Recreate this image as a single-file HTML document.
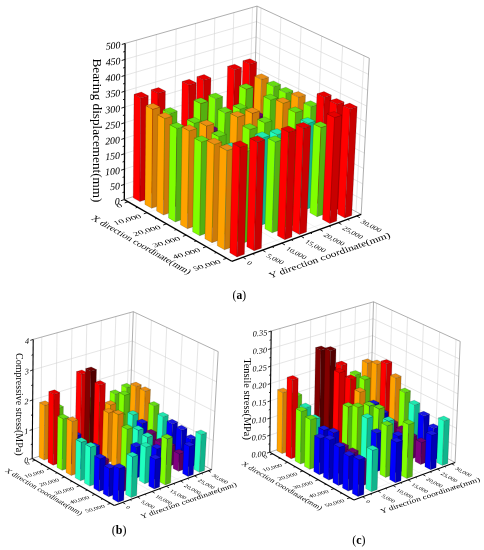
<!DOCTYPE html>
<html><head><meta charset="utf-8"><title>Figure</title>
<style>html,body{margin:0;padding:0;background:#fff}svg{display:block;font-family:"Liberation Serif",serif}</style>
</head><body>
<svg width="484" height="550" viewBox="0 0 484 550">
<rect width="484" height="550" fill="#fff"/>
<polygon points="269.8,452.2 370.2,418.3 373.5,301.8 271.2,331" fill="#fff" stroke="none" stroke-width="0"/>
<polygon points="370.2,418.3 455.1,462.5 460.2,341.4 373.5,301.8" fill="#fff" stroke="none" stroke-width="0"/>
<polygon points="269.8,452.2 353.9,500.1 455.1,462.5 370.2,418.3" fill="#fff" stroke="none" stroke-width="0"/>
<line x1="278.4" y1="449.3" x2="280" y2="328.5" stroke="#d4d4d4" stroke-width="0.6"/>
<line x1="278.4" y1="449.3" x2="362.6" y2="496.8" stroke="#e6e6e6" stroke-width="0.5"/>
<line x1="293.6" y1="444.1" x2="295.5" y2="324.1" stroke="#d4d4d4" stroke-width="0.6"/>
<line x1="293.6" y1="444.1" x2="378" y2="491.1" stroke="#e6e6e6" stroke-width="0.5"/>
<line x1="308.7" y1="439.1" x2="310.8" y2="319.7" stroke="#d4d4d4" stroke-width="0.6"/>
<line x1="308.7" y1="439.1" x2="393.1" y2="485.5" stroke="#e6e6e6" stroke-width="0.5"/>
<line x1="323.5" y1="434.1" x2="325.9" y2="315.4" stroke="#d4d4d4" stroke-width="0.6"/>
<line x1="323.5" y1="434.1" x2="408.1" y2="479.9" stroke="#e6e6e6" stroke-width="0.5"/>
<line x1="338.1" y1="429.1" x2="340.8" y2="311.1" stroke="#d4d4d4" stroke-width="0.6"/>
<line x1="338.1" y1="429.1" x2="422.8" y2="474.5" stroke="#e6e6e6" stroke-width="0.5"/>
<line x1="352.6" y1="424.3" x2="355.5" y2="307" stroke="#d4d4d4" stroke-width="0.6"/>
<line x1="352.6" y1="424.3" x2="437.4" y2="469.1" stroke="#e6e6e6" stroke-width="0.5"/>
<line x1="366.8" y1="419.5" x2="370" y2="302.8" stroke="#d4d4d4" stroke-width="0.6"/>
<line x1="366.8" y1="419.5" x2="451.7" y2="463.7" stroke="#e6e6e6" stroke-width="0.5"/>
<line x1="373.2" y1="419.9" x2="376.5" y2="303.2" stroke="#d4d4d4" stroke-width="0.6"/>
<line x1="272.8" y1="453.8" x2="373.2" y2="419.9" stroke="#e6e6e6" stroke-width="0.5"/>
<line x1="388.3" y1="427.7" x2="391.9" y2="310.2" stroke="#d4d4d4" stroke-width="0.6"/>
<line x1="287.7" y1="462.3" x2="388.3" y2="427.7" stroke="#e6e6e6" stroke-width="0.5"/>
<line x1="403.6" y1="435.7" x2="407.5" y2="317.4" stroke="#d4d4d4" stroke-width="0.6"/>
<line x1="302.8" y1="471" x2="403.6" y2="435.7" stroke="#e6e6e6" stroke-width="0.5"/>
<line x1="419.2" y1="443.8" x2="423.4" y2="324.6" stroke="#d4d4d4" stroke-width="0.6"/>
<line x1="318.2" y1="479.7" x2="419.2" y2="443.8" stroke="#e6e6e6" stroke-width="0.5"/>
<line x1="435" y1="452" x2="439.6" y2="332" stroke="#d4d4d4" stroke-width="0.6"/>
<line x1="333.9" y1="488.7" x2="435" y2="452" stroke="#e6e6e6" stroke-width="0.5"/>
<line x1="451.1" y1="460.4" x2="456" y2="339.5" stroke="#d4d4d4" stroke-width="0.6"/>
<line x1="349.9" y1="497.8" x2="451.1" y2="460.4" stroke="#e6e6e6" stroke-width="0.5"/>
<line x1="270" y1="435.1" x2="370.7" y2="401.9" stroke="#d4d4d4" stroke-width="0.6"/>
<line x1="370.7" y1="401.9" x2="455.9" y2="445.5" stroke="#d4d4d4" stroke-width="0.6"/>
<line x1="270.2" y1="418" x2="371.1" y2="385.5" stroke="#d4d4d4" stroke-width="0.6"/>
<line x1="371.1" y1="385.5" x2="456.6" y2="428.4" stroke="#d4d4d4" stroke-width="0.6"/>
<line x1="270.4" y1="400.8" x2="371.6" y2="368.9" stroke="#d4d4d4" stroke-width="0.6"/>
<line x1="371.6" y1="368.9" x2="457.3" y2="411.2" stroke="#d4d4d4" stroke-width="0.6"/>
<line x1="270.6" y1="383.5" x2="372.1" y2="352.3" stroke="#d4d4d4" stroke-width="0.6"/>
<line x1="372.1" y1="352.3" x2="458" y2="393.9" stroke="#d4d4d4" stroke-width="0.6"/>
<line x1="270.8" y1="366.1" x2="372.5" y2="335.6" stroke="#d4d4d4" stroke-width="0.6"/>
<line x1="372.5" y1="335.6" x2="458.7" y2="376.5" stroke="#d4d4d4" stroke-width="0.6"/>
<line x1="271" y1="348.6" x2="373" y2="318.7" stroke="#d4d4d4" stroke-width="0.6"/>
<line x1="373" y1="318.7" x2="459.5" y2="359" stroke="#d4d4d4" stroke-width="0.6"/>
<line x1="271.2" y1="331" x2="373.5" y2="301.8" stroke="#8c8c8c" stroke-width="0.7"/>
<line x1="373.5" y1="301.8" x2="460.2" y2="341.4" stroke="#8c8c8c" stroke-width="0.7"/>
<line x1="460.2" y1="341.4" x2="455.1" y2="462.5" stroke="#8c8c8c" stroke-width="0.7"/>
<line x1="370.2" y1="418.3" x2="373.5" y2="301.8" stroke="#8c8c8c" stroke-width="0.7"/>
<line x1="370.2" y1="418.3" x2="455.1" y2="462.5" stroke="#8c8c8c" stroke-width="0.7"/>
<line x1="269.8" y1="452.2" x2="370.2" y2="418.3" stroke="#8c8c8c" stroke-width="0.7"/>
<polygon points="360.6,422.4 365.9,425.2 367.6,363 362.2,360.4" fill="#ffa200" stroke="#000" stroke-width="0.35" stroke-linejoin="round" stroke-opacity="0.45"/>
<polygon points="365.9,425.2 371.2,423.4 372.9,361.4 367.6,363" fill="#cc7a08" stroke="#000" stroke-width="0.35" stroke-linejoin="round" stroke-opacity="0.45"/>
<polygon points="362.2,360.4 367.6,363 372.9,361.4 367.6,358.8" fill="#ea8e14" stroke="#000" stroke-width="0.35" stroke-linejoin="round" stroke-opacity="0.45"/>
<polygon points="369.8,427.2 375.1,430 377,364.3 371.6,361.6" fill="#ffa200" stroke="#000" stroke-width="0.35" stroke-linejoin="round" stroke-opacity="0.45"/>
<polygon points="375.1,430 380.4,428.2 382.4,362.6 377,364.3" fill="#cc7a08" stroke="#000" stroke-width="0.35" stroke-linejoin="round" stroke-opacity="0.45"/>
<polygon points="371.6,361.6 377,364.3 382.4,362.6 377,359.9" fill="#ea8e14" stroke="#000" stroke-width="0.35" stroke-linejoin="round" stroke-opacity="0.45"/>
<polygon points="348.9,426.3 354.2,429.2 355.5,374.8 350.2,372.1" fill="#80ff00" stroke="#000" stroke-width="0.35" stroke-linejoin="round" stroke-opacity="0.45"/>
<polygon points="354.2,429.2 359.5,427.3 361,373.1 355.5,374.8" fill="#54b010" stroke="#000" stroke-width="0.35" stroke-linejoin="round" stroke-opacity="0.45"/>
<polygon points="350.2,372.1 355.5,374.8 361,373.1 355.6,370.4" fill="#66dc12" stroke="#000" stroke-width="0.35" stroke-linejoin="round" stroke-opacity="0.45"/>
<polygon points="379,432.1 384.4,434.9 386.6,363.8 381.1,361.1" fill="#ff0000" stroke="#000" stroke-width="0.35" stroke-linejoin="round" stroke-opacity="0.45"/>
<polygon points="384.4,434.9 389.8,433.1 392,362.1 386.6,363.8" fill="#c80000" stroke="#000" stroke-width="0.35" stroke-linejoin="round" stroke-opacity="0.45"/>
<polygon points="381.1,361.1 386.6,363.8 392,362.1 386.5,359.4" fill="#e60000" stroke="#000" stroke-width="0.35" stroke-linejoin="round" stroke-opacity="0.45"/>
<polygon points="358,431.2 363.4,434 364.8,379.8 359.4,377.1" fill="#80ff00" stroke="#000" stroke-width="0.35" stroke-linejoin="round" stroke-opacity="0.45"/>
<polygon points="363.4,434 368.8,432.2 370.3,378.1 364.8,379.8" fill="#54b010" stroke="#000" stroke-width="0.35" stroke-linejoin="round" stroke-opacity="0.45"/>
<polygon points="359.4,377.1 364.8,379.8 370.3,378.1 364.9,375.4" fill="#66dc12" stroke="#000" stroke-width="0.35" stroke-linejoin="round" stroke-opacity="0.45"/>
<polygon points="388.4,437 393.9,439.9 395.8,377.9 390.3,375.2" fill="#ffa200" stroke="#000" stroke-width="0.35" stroke-linejoin="round" stroke-opacity="0.45"/>
<polygon points="393.9,439.9 399.2,438 401.2,376.2 395.8,377.9" fill="#cc7a08" stroke="#000" stroke-width="0.35" stroke-linejoin="round" stroke-opacity="0.45"/>
<polygon points="390.3,375.2 395.8,377.9 401.2,376.2 395.7,373.5" fill="#ea8e14" stroke="#000" stroke-width="0.35" stroke-linejoin="round" stroke-opacity="0.45"/>
<polygon points="367.3,436.1 372.7,439 373.7,404.5 368.3,401.7" fill="#0000ff" stroke="#000" stroke-width="0.35" stroke-linejoin="round" stroke-opacity="0.45"/>
<polygon points="372.7,439 378.1,437.1 379.1,402.7 373.7,404.5" fill="#0000b4" stroke="#000" stroke-width="0.35" stroke-linejoin="round" stroke-opacity="0.45"/>
<polygon points="368.3,401.7 373.7,404.5 379.1,402.7 373.7,399.9" fill="#1818e0" stroke="#000" stroke-width="0.35" stroke-linejoin="round" stroke-opacity="0.45"/>
<polygon points="325.3,434.3 330.6,437.2 332,369.7 326.7,367" fill="#ff0000" stroke="#000" stroke-width="0.35" stroke-linejoin="round" stroke-opacity="0.45"/>
<polygon points="330.6,437.2 336.1,435.3 337.6,368 332,369.7" fill="#c80000" stroke="#000" stroke-width="0.35" stroke-linejoin="round" stroke-opacity="0.45"/>
<polygon points="326.7,367 332,369.7 337.6,368 332.2,365.3" fill="#e60000" stroke="#000" stroke-width="0.35" stroke-linejoin="round" stroke-opacity="0.45"/>
<polygon points="397.9,442 403.4,444.9 405.1,392.6 399.5,389.8" fill="#80ff00" stroke="#000" stroke-width="0.35" stroke-linejoin="round" stroke-opacity="0.45"/>
<polygon points="403.4,444.9 408.7,443 410.5,390.8 405.1,392.6" fill="#54b010" stroke="#000" stroke-width="0.35" stroke-linejoin="round" stroke-opacity="0.45"/>
<polygon points="399.5,389.8 405.1,392.6 410.5,390.8 404.9,388" fill="#66dc12" stroke="#000" stroke-width="0.35" stroke-linejoin="round" stroke-opacity="0.45"/>
<polygon points="376.7,441.1 382.1,444 383,413.7 377.5,410.9" fill="#0000ff" stroke="#000" stroke-width="0.35" stroke-linejoin="round" stroke-opacity="0.45"/>
<polygon points="382.1,444 387.5,442.1 388.4,411.9 383,413.7" fill="#0000b4" stroke="#000" stroke-width="0.35" stroke-linejoin="round" stroke-opacity="0.45"/>
<polygon points="377.5,410.9 383,413.7 388.4,411.9 383,409.1" fill="#1818e0" stroke="#000" stroke-width="0.35" stroke-linejoin="round" stroke-opacity="0.45"/>
<polygon points="313.9,438.1 319.2,441 321,350.3 315.6,347.6" fill="#820000" stroke="#000" stroke-width="0.35" stroke-linejoin="round" stroke-opacity="0.45"/>
<polygon points="319.2,441 324.8,439.1 326.6,348.6 321,350.3" fill="#520000" stroke="#000" stroke-width="0.35" stroke-linejoin="round" stroke-opacity="0.45"/>
<polygon points="315.6,347.6 321,350.3 326.6,348.6 321.3,345.9" fill="#6c0000" stroke="#000" stroke-width="0.35" stroke-linejoin="round" stroke-opacity="0.45"/>
<polygon points="334.5,439.3 339.8,442.2 341.5,365.5 336.1,362.8" fill="#ff0000" stroke="#000" stroke-width="0.35" stroke-linejoin="round" stroke-opacity="0.45"/>
<polygon points="339.8,442.2 345.3,440.3 347.1,363.8 341.5,365.5" fill="#c80000" stroke="#000" stroke-width="0.35" stroke-linejoin="round" stroke-opacity="0.45"/>
<polygon points="336.1,362.8 341.5,365.5 347.1,363.8 341.7,361.1" fill="#e60000" stroke="#000" stroke-width="0.35" stroke-linejoin="round" stroke-opacity="0.45"/>
<polygon points="407.4,447 413,449.9 414.5,404.9 408.9,402.1" fill="#20ffc0" stroke="#000" stroke-width="0.35" stroke-linejoin="round" stroke-opacity="0.45"/>
<polygon points="413,449.9 418.3,448 419.9,403.1 414.5,404.9" fill="#10b48c" stroke="#000" stroke-width="0.35" stroke-linejoin="round" stroke-opacity="0.45"/>
<polygon points="408.9,402.1 414.5,404.9 419.9,403.1 414.3,400.3" fill="#20e8b0" stroke="#000" stroke-width="0.35" stroke-linejoin="round" stroke-opacity="0.45"/>
<polygon points="386.1,446.1 391.6,449 392.4,423.7 386.9,420.9" fill="#800080" stroke="#000" stroke-width="0.35" stroke-linejoin="round" stroke-opacity="0.45"/>
<polygon points="391.6,449 397,447.1 397.8,421.9 392.4,423.7" fill="#580058" stroke="#000" stroke-width="0.35" stroke-linejoin="round" stroke-opacity="0.45"/>
<polygon points="386.9,420.9 392.4,423.7 397.8,421.9 392.3,419" fill="#700070" stroke="#000" stroke-width="0.35" stroke-linejoin="round" stroke-opacity="0.45"/>
<polygon points="323.1,443.1 328.4,446.1 330.4,350.7 325,348.1" fill="#820000" stroke="#000" stroke-width="0.35" stroke-linejoin="round" stroke-opacity="0.45"/>
<polygon points="328.4,446.1 334,444.2 336,349 330.4,350.7" fill="#520000" stroke="#000" stroke-width="0.35" stroke-linejoin="round" stroke-opacity="0.45"/>
<polygon points="325,348.1 330.4,350.7 336,349 330.6,346.4" fill="#6c0000" stroke="#000" stroke-width="0.35" stroke-linejoin="round" stroke-opacity="0.45"/>
<polygon points="343.7,444.3 349.1,447.2 350.7,379.2 345.3,376.4" fill="#ff0000" stroke="#000" stroke-width="0.35" stroke-linejoin="round" stroke-opacity="0.45"/>
<polygon points="349.1,447.2 354.6,445.3 356.3,377.4 350.7,379.2" fill="#c80000" stroke="#000" stroke-width="0.35" stroke-linejoin="round" stroke-opacity="0.45"/>
<polygon points="345.3,376.4 350.7,379.2 356.3,377.4 350.9,374.7" fill="#e60000" stroke="#000" stroke-width="0.35" stroke-linejoin="round" stroke-opacity="0.45"/>
<polygon points="417.1,452.1 422.7,455 424.1,416 418.5,413.1" fill="#0000ff" stroke="#000" stroke-width="0.35" stroke-linejoin="round" stroke-opacity="0.45"/>
<polygon points="422.7,455 428,453.1 429.5,414.1 424.1,416" fill="#0000b4" stroke="#000" stroke-width="0.35" stroke-linejoin="round" stroke-opacity="0.45"/>
<polygon points="418.5,413.1 424.1,416 429.5,414.1 423.8,411.3" fill="#1818e0" stroke="#000" stroke-width="0.35" stroke-linejoin="round" stroke-opacity="0.45"/>
<polygon points="395.7,451.2 401.2,454.1 402,430.4 396.4,427.5" fill="#800080" stroke="#000" stroke-width="0.35" stroke-linejoin="round" stroke-opacity="0.45"/>
<polygon points="401.2,454.1 406.6,452.2 407.4,428.5 402,430.4" fill="#580058" stroke="#000" stroke-width="0.35" stroke-linejoin="round" stroke-opacity="0.45"/>
<polygon points="396.4,427.5 402,430.4 407.4,428.5 401.8,425.6" fill="#700070" stroke="#000" stroke-width="0.35" stroke-linejoin="round" stroke-opacity="0.45"/>
<polygon points="332.3,448.2 337.7,451.1 339.5,372.8 334,370" fill="#ff0000" stroke="#000" stroke-width="0.35" stroke-linejoin="round" stroke-opacity="0.45"/>
<polygon points="337.7,451.1 343.2,449.2 345.1,371 339.5,372.8" fill="#c80000" stroke="#000" stroke-width="0.35" stroke-linejoin="round" stroke-opacity="0.45"/>
<polygon points="334,370 339.5,372.8 345.1,371 339.6,368.3" fill="#e60000" stroke="#000" stroke-width="0.35" stroke-linejoin="round" stroke-opacity="0.45"/>
<polygon points="353,449.3 358.5,452.3 360,392.2 354.5,389.4" fill="#ffa200" stroke="#000" stroke-width="0.35" stroke-linejoin="round" stroke-opacity="0.45"/>
<polygon points="358.5,452.3 364,450.3 365.6,390.4 360,392.2" fill="#cc7a08" stroke="#000" stroke-width="0.35" stroke-linejoin="round" stroke-opacity="0.45"/>
<polygon points="354.5,389.4 360,392.2 365.6,390.4 360.1,387.6" fill="#ea8e14" stroke="#000" stroke-width="0.35" stroke-linejoin="round" stroke-opacity="0.45"/>
<polygon points="290.1,446.2 295.4,449.1 296.2,396.3 290.9,393.5" fill="#80ff00" stroke="#000" stroke-width="0.35" stroke-linejoin="round" stroke-opacity="0.45"/>
<polygon points="295.4,449.1 301.1,447.2 301.9,394.5 296.2,396.3" fill="#54b010" stroke="#000" stroke-width="0.35" stroke-linejoin="round" stroke-opacity="0.45"/>
<polygon points="290.9,393.5 296.2,396.3 301.9,394.5 296.6,391.7" fill="#66dc12" stroke="#000" stroke-width="0.35" stroke-linejoin="round" stroke-opacity="0.45"/>
<polygon points="426.8,457.2 432.5,460.2 433.7,428.5 428,425.6" fill="#0000ff" stroke="#000" stroke-width="0.35" stroke-linejoin="round" stroke-opacity="0.45"/>
<polygon points="432.5,460.2 437.9,458.2 439.1,426.6 433.7,428.5" fill="#0000b4" stroke="#000" stroke-width="0.35" stroke-linejoin="round" stroke-opacity="0.45"/>
<polygon points="428,425.6 433.7,428.5 439.1,426.6 433.4,423.7" fill="#1818e0" stroke="#000" stroke-width="0.35" stroke-linejoin="round" stroke-opacity="0.45"/>
<polygon points="405.3,456.3 410.9,459.3 411.7,437.2 406.1,434.2" fill="#800080" stroke="#000" stroke-width="0.35" stroke-linejoin="round" stroke-opacity="0.45"/>
<polygon points="410.9,459.3 416.3,457.3 417.1,435.2 411.7,437.2" fill="#580058" stroke="#000" stroke-width="0.35" stroke-linejoin="round" stroke-opacity="0.45"/>
<polygon points="406.1,434.2 411.7,437.2 417.1,435.2 411.5,432.3" fill="#700070" stroke="#000" stroke-width="0.35" stroke-linejoin="round" stroke-opacity="0.45"/>
<polygon points="341.6,453.3 347.1,456.3 348.3,407 342.8,404.2" fill="#80ff00" stroke="#000" stroke-width="0.35" stroke-linejoin="round" stroke-opacity="0.45"/>
<polygon points="347.1,456.3 352.6,454.3 353.9,405.2 348.3,407" fill="#54b010" stroke="#000" stroke-width="0.35" stroke-linejoin="round" stroke-opacity="0.45"/>
<polygon points="342.8,404.2 348.3,407 353.9,405.2 348.4,402.3" fill="#66dc12" stroke="#000" stroke-width="0.35" stroke-linejoin="round" stroke-opacity="0.45"/>
<polygon points="362.5,454.4 368,457.4 369.4,406.1 363.8,403.2" fill="#80ff00" stroke="#000" stroke-width="0.35" stroke-linejoin="round" stroke-opacity="0.45"/>
<polygon points="368,457.4 373.5,455.5 374.9,404.3 369.4,406.1" fill="#54b010" stroke="#000" stroke-width="0.35" stroke-linejoin="round" stroke-opacity="0.45"/>
<polygon points="363.8,403.2 369.4,406.1 374.9,404.3 369.4,401.4" fill="#66dc12" stroke="#000" stroke-width="0.35" stroke-linejoin="round" stroke-opacity="0.45"/>
<polygon points="299.3,451.3 304.6,454.2 305.4,407.7 300,404.9" fill="#20ffc0" stroke="#000" stroke-width="0.35" stroke-linejoin="round" stroke-opacity="0.45"/>
<polygon points="304.6,454.2 310.2,452.3 311.1,405.9 305.4,407.7" fill="#10b48c" stroke="#000" stroke-width="0.35" stroke-linejoin="round" stroke-opacity="0.45"/>
<polygon points="300,404.9 305.4,407.7 311.1,405.9 305.7,403" fill="#20e8b0" stroke="#000" stroke-width="0.35" stroke-linejoin="round" stroke-opacity="0.45"/>
<polygon points="276.9,450.7 282.1,453.6 282.9,392.6 277.6,389.7" fill="#ffa200" stroke="#000" stroke-width="0.35" stroke-linejoin="round" stroke-opacity="0.45"/>
<polygon points="282.1,453.6 287.8,451.7 288.7,390.7 282.9,392.6" fill="#cc7a08" stroke="#000" stroke-width="0.35" stroke-linejoin="round" stroke-opacity="0.45"/>
<polygon points="277.6,389.7 282.9,392.6 288.7,390.7 283.4,387.9" fill="#ea8e14" stroke="#000" stroke-width="0.35" stroke-linejoin="round" stroke-opacity="0.45"/>
<polygon points="436.7,462.4 442.4,465.4 444.2,420.8 438.4,417.9" fill="#20ffc0" stroke="#000" stroke-width="0.35" stroke-linejoin="round" stroke-opacity="0.45"/>
<polygon points="442.4,465.4 447.8,463.4 449.6,418.9 444.2,420.8" fill="#10b48c" stroke="#000" stroke-width="0.35" stroke-linejoin="round" stroke-opacity="0.45"/>
<polygon points="438.4,417.9 444.2,420.8 449.6,418.9 443.8,416" fill="#20e8b0" stroke="#000" stroke-width="0.35" stroke-linejoin="round" stroke-opacity="0.45"/>
<polygon points="415.1,461.5 420.7,464.5 421.5,442.6 415.8,439.6" fill="#800080" stroke="#000" stroke-width="0.35" stroke-linejoin="round" stroke-opacity="0.45"/>
<polygon points="420.7,464.5 426.1,462.5 427,440.7 421.5,442.6" fill="#580058" stroke="#000" stroke-width="0.35" stroke-linejoin="round" stroke-opacity="0.45"/>
<polygon points="415.8,439.6 421.5,442.6 427,440.7 421.3,437.7" fill="#700070" stroke="#000" stroke-width="0.35" stroke-linejoin="round" stroke-opacity="0.45"/>
<polygon points="351,458.5 356.5,461.5 357.9,407.5 352.4,404.6" fill="#80ff00" stroke="#000" stroke-width="0.35" stroke-linejoin="round" stroke-opacity="0.45"/>
<polygon points="356.5,461.5 362.1,459.5 363.5,405.6 357.9,407.5" fill="#54b010" stroke="#000" stroke-width="0.35" stroke-linejoin="round" stroke-opacity="0.45"/>
<polygon points="352.4,404.6 357.9,407.5 363.5,405.6 358,402.8" fill="#66dc12" stroke="#000" stroke-width="0.35" stroke-linejoin="round" stroke-opacity="0.45"/>
<polygon points="372,459.6 377.5,462.6 379.1,409 373.5,406.1" fill="#80ff00" stroke="#000" stroke-width="0.35" stroke-linejoin="round" stroke-opacity="0.45"/>
<polygon points="377.5,462.6 383.1,460.6 384.7,407.1 379.1,409" fill="#54b010" stroke="#000" stroke-width="0.35" stroke-linejoin="round" stroke-opacity="0.45"/>
<polygon points="373.5,406.1 379.1,409 384.7,407.1 379.1,404.3" fill="#66dc12" stroke="#000" stroke-width="0.35" stroke-linejoin="round" stroke-opacity="0.45"/>
<polygon points="308.5,456.4 313.8,459.4 314.6,419.3 309.2,416.4" fill="#20ffc0" stroke="#000" stroke-width="0.35" stroke-linejoin="round" stroke-opacity="0.45"/>
<polygon points="313.8,459.4 319.5,457.5 320.3,417.4 314.6,419.3" fill="#10b48c" stroke="#000" stroke-width="0.35" stroke-linejoin="round" stroke-opacity="0.45"/>
<polygon points="309.2,416.4 314.6,419.3 320.3,417.4 314.9,414.5" fill="#20e8b0" stroke="#000" stroke-width="0.35" stroke-linejoin="round" stroke-opacity="0.45"/>
<polygon points="285.9,455.8 291.2,458.8 292.4,380 287.1,377.2" fill="#ff0000" stroke="#000" stroke-width="0.35" stroke-linejoin="round" stroke-opacity="0.45"/>
<polygon points="291.2,458.8 297,456.8 298.2,378.2 292.4,380" fill="#c80000" stroke="#000" stroke-width="0.35" stroke-linejoin="round" stroke-opacity="0.45"/>
<polygon points="287.1,377.2 292.4,380 298.2,378.2 292.9,375.4" fill="#e60000" stroke="#000" stroke-width="0.35" stroke-linejoin="round" stroke-opacity="0.45"/>
<polygon points="424.9,466.7 430.6,469.7 431.9,435.3 426.2,432.4" fill="#0000ff" stroke="#000" stroke-width="0.35" stroke-linejoin="round" stroke-opacity="0.45"/>
<polygon points="430.6,469.7 436.1,467.7 437.4,433.4 431.9,435.3" fill="#0000b4" stroke="#000" stroke-width="0.35" stroke-linejoin="round" stroke-opacity="0.45"/>
<polygon points="426.2,432.4 431.9,435.3 437.4,433.4 431.6,430.5" fill="#1818e0" stroke="#000" stroke-width="0.35" stroke-linejoin="round" stroke-opacity="0.45"/>
<polygon points="360.6,463.7 366.1,466.7 367.4,418.4 361.8,415.5" fill="#20ffc0" stroke="#000" stroke-width="0.35" stroke-linejoin="round" stroke-opacity="0.45"/>
<polygon points="366.1,466.7 371.7,464.7 373,416.5 367.4,418.4" fill="#10b48c" stroke="#000" stroke-width="0.35" stroke-linejoin="round" stroke-opacity="0.45"/>
<polygon points="361.8,415.5 367.4,418.4 373,416.5 367.5,413.6" fill="#20e8b0" stroke="#000" stroke-width="0.35" stroke-linejoin="round" stroke-opacity="0.45"/>
<polygon points="381.6,464.8 387.2,467.9 388.7,421.3 383,418.4" fill="#20ffc0" stroke="#000" stroke-width="0.35" stroke-linejoin="round" stroke-opacity="0.45"/>
<polygon points="387.2,467.9 392.7,465.9 394.2,419.4 388.7,421.3" fill="#10b48c" stroke="#000" stroke-width="0.35" stroke-linejoin="round" stroke-opacity="0.45"/>
<polygon points="383,418.4 388.7,421.3 394.2,419.4 388.6,416.5" fill="#20e8b0" stroke="#000" stroke-width="0.35" stroke-linejoin="round" stroke-opacity="0.45"/>
<polygon points="317.8,461.6 323.2,464.7 323.9,430.2 318.4,427.3" fill="#0000ff" stroke="#000" stroke-width="0.35" stroke-linejoin="round" stroke-opacity="0.45"/>
<polygon points="323.2,464.7 328.9,462.7 329.6,428.3 323.9,430.2" fill="#0000b4" stroke="#000" stroke-width="0.35" stroke-linejoin="round" stroke-opacity="0.45"/>
<polygon points="318.4,427.3 323.9,430.2 329.6,428.3 324.1,425.4" fill="#1818e0" stroke="#000" stroke-width="0.35" stroke-linejoin="round" stroke-opacity="0.45"/>
<polygon points="295.1,461 300.5,464 301.4,411.5 296,408.6" fill="#80ff00" stroke="#000" stroke-width="0.35" stroke-linejoin="round" stroke-opacity="0.45"/>
<polygon points="300.5,464 306.2,462.1 307.2,409.6 301.4,411.5" fill="#54b010" stroke="#000" stroke-width="0.35" stroke-linejoin="round" stroke-opacity="0.45"/>
<polygon points="296,408.6 301.4,411.5 307.2,409.6 301.7,406.7" fill="#66dc12" stroke="#000" stroke-width="0.35" stroke-linejoin="round" stroke-opacity="0.45"/>
<polygon points="370.2,468.9 375.8,472 376.9,433.3 371.3,430.3" fill="#0000ff" stroke="#000" stroke-width="0.35" stroke-linejoin="round" stroke-opacity="0.45"/>
<polygon points="375.8,472 381.4,470 382.5,431.3 376.9,433.3" fill="#0000b4" stroke="#000" stroke-width="0.35" stroke-linejoin="round" stroke-opacity="0.45"/>
<polygon points="371.3,430.3 376.9,433.3 382.5,431.3 376.9,428.4" fill="#1818e0" stroke="#000" stroke-width="0.35" stroke-linejoin="round" stroke-opacity="0.45"/>
<polygon points="391.3,470.1 397,473.2 398.2,436.2 392.5,433.2" fill="#0000ff" stroke="#000" stroke-width="0.35" stroke-linejoin="round" stroke-opacity="0.45"/>
<polygon points="397,473.2 402.5,471.1 403.8,434.2 398.2,436.2" fill="#0000b4" stroke="#000" stroke-width="0.35" stroke-linejoin="round" stroke-opacity="0.45"/>
<polygon points="392.5,433.2 398.2,436.2 403.8,434.2 398.1,431.2" fill="#1818e0" stroke="#000" stroke-width="0.35" stroke-linejoin="round" stroke-opacity="0.45"/>
<polygon points="327.1,466.9 332.6,469.9 333.4,432.9 327.9,429.9" fill="#0000ff" stroke="#000" stroke-width="0.35" stroke-linejoin="round" stroke-opacity="0.45"/>
<polygon points="332.6,469.9 338.3,467.9 339.2,431 333.4,432.9" fill="#0000b4" stroke="#000" stroke-width="0.35" stroke-linejoin="round" stroke-opacity="0.45"/>
<polygon points="327.9,429.9 333.4,432.9 339.2,431 333.6,428" fill="#1818e0" stroke="#000" stroke-width="0.35" stroke-linejoin="round" stroke-opacity="0.45"/>
<polygon points="304.4,466.3 309.8,469.3 310.7,419.7 305.3,416.8" fill="#80ff00" stroke="#000" stroke-width="0.35" stroke-linejoin="round" stroke-opacity="0.45"/>
<polygon points="309.8,469.3 315.6,467.3 316.5,417.8 310.7,419.7" fill="#54b010" stroke="#000" stroke-width="0.35" stroke-linejoin="round" stroke-opacity="0.45"/>
<polygon points="305.3,416.8 310.7,419.7 316.5,417.8 311.1,414.9" fill="#66dc12" stroke="#000" stroke-width="0.35" stroke-linejoin="round" stroke-opacity="0.45"/>
<polygon points="379.9,474.3 385.6,477.4 387.1,425.8 381.4,422.8" fill="#80ff00" stroke="#000" stroke-width="0.35" stroke-linejoin="round" stroke-opacity="0.45"/>
<polygon points="385.6,477.4 391.2,475.3 392.8,423.9 387.1,425.8" fill="#54b010" stroke="#000" stroke-width="0.35" stroke-linejoin="round" stroke-opacity="0.45"/>
<polygon points="381.4,422.8 387.1,425.8 392.8,423.9 387.1,420.9" fill="#66dc12" stroke="#000" stroke-width="0.35" stroke-linejoin="round" stroke-opacity="0.45"/>
<polygon points="401.2,475.4 406.9,478.5 408.7,424.5 403,421.6" fill="#80ff00" stroke="#000" stroke-width="0.35" stroke-linejoin="round" stroke-opacity="0.45"/>
<polygon points="406.9,478.5 412.4,476.5 414.3,422.6 408.7,424.5" fill="#54b010" stroke="#000" stroke-width="0.35" stroke-linejoin="round" stroke-opacity="0.45"/>
<polygon points="403,421.6 408.7,424.5 414.3,422.6 408.5,419.6" fill="#66dc12" stroke="#000" stroke-width="0.35" stroke-linejoin="round" stroke-opacity="0.45"/>
<polygon points="336.6,472.2 342.2,475.3 342.8,447.5 337.3,444.5" fill="#800080" stroke="#000" stroke-width="0.35" stroke-linejoin="round" stroke-opacity="0.45"/>
<polygon points="342.2,475.3 347.9,473.2 348.5,445.5 342.8,447.5" fill="#580058" stroke="#000" stroke-width="0.35" stroke-linejoin="round" stroke-opacity="0.45"/>
<polygon points="337.3,444.5 342.8,447.5 348.5,445.5 343,442.5" fill="#700070" stroke="#000" stroke-width="0.35" stroke-linejoin="round" stroke-opacity="0.45"/>
<polygon points="313.8,471.6 319.3,474.7 320,438.5 314.5,435.5" fill="#0000ff" stroke="#000" stroke-width="0.35" stroke-linejoin="round" stroke-opacity="0.45"/>
<polygon points="319.3,474.7 325,472.6 325.8,436.5 320,438.5" fill="#0000b4" stroke="#000" stroke-width="0.35" stroke-linejoin="round" stroke-opacity="0.45"/>
<polygon points="314.5,435.5 320,438.5 325.8,436.5 320.3,433.6" fill="#1818e0" stroke="#000" stroke-width="0.35" stroke-linejoin="round" stroke-opacity="0.45"/>
<polygon points="389.7,479.6 395.4,482.8 396.7,442.6 391,439.6" fill="#0000ff" stroke="#000" stroke-width="0.35" stroke-linejoin="round" stroke-opacity="0.45"/>
<polygon points="395.4,482.8 401,480.7 402.4,440.6 396.7,442.6" fill="#0000b4" stroke="#000" stroke-width="0.35" stroke-linejoin="round" stroke-opacity="0.45"/>
<polygon points="391,439.6 396.7,442.6 402.4,440.6 396.6,437.6" fill="#1818e0" stroke="#000" stroke-width="0.35" stroke-linejoin="round" stroke-opacity="0.45"/>
<polygon points="346.2,477.6 351.8,480.7 352.5,452.8 346.9,449.7" fill="#800080" stroke="#000" stroke-width="0.35" stroke-linejoin="round" stroke-opacity="0.45"/>
<polygon points="351.8,480.7 357.5,478.6 358.3,450.8 352.5,452.8" fill="#580058" stroke="#000" stroke-width="0.35" stroke-linejoin="round" stroke-opacity="0.45"/>
<polygon points="346.9,449.7 352.5,452.8 358.3,450.8 352.6,447.7" fill="#700070" stroke="#000" stroke-width="0.35" stroke-linejoin="round" stroke-opacity="0.45"/>
<polygon points="323.3,477 328.8,480.1 329.7,439.9 324.1,436.9" fill="#0000ff" stroke="#000" stroke-width="0.35" stroke-linejoin="round" stroke-opacity="0.45"/>
<polygon points="328.8,480.1 334.6,478 335.5,437.9 329.7,439.9" fill="#0000b4" stroke="#000" stroke-width="0.35" stroke-linejoin="round" stroke-opacity="0.45"/>
<polygon points="324.1,436.9 329.7,439.9 335.5,437.9 329.9,434.9" fill="#1818e0" stroke="#000" stroke-width="0.35" stroke-linejoin="round" stroke-opacity="0.45"/>
<polygon points="355.9,483 361.6,486.1 362.2,461.6 356.6,458.5" fill="#800080" stroke="#000" stroke-width="0.35" stroke-linejoin="round" stroke-opacity="0.45"/>
<polygon points="361.6,486.1 367.3,484.1 368,459.6 362.2,461.6" fill="#580058" stroke="#000" stroke-width="0.35" stroke-linejoin="round" stroke-opacity="0.45"/>
<polygon points="356.6,458.5 362.2,461.6 368,459.6 362.3,456.5" fill="#700070" stroke="#000" stroke-width="0.35" stroke-linejoin="round" stroke-opacity="0.45"/>
<polygon points="332.9,482.4 338.4,485.5 339.3,447.3 333.7,444.2" fill="#0000ff" stroke="#000" stroke-width="0.35" stroke-linejoin="round" stroke-opacity="0.45"/>
<polygon points="338.4,485.5 344.2,483.4 345.1,445.3 339.3,447.3" fill="#0000b4" stroke="#000" stroke-width="0.35" stroke-linejoin="round" stroke-opacity="0.45"/>
<polygon points="333.7,444.2 339.3,447.3 345.1,445.3 339.5,442.2" fill="#1818e0" stroke="#000" stroke-width="0.35" stroke-linejoin="round" stroke-opacity="0.45"/>
<polygon points="365.7,488.5 371.4,491.7 372.6,450.4 366.9,447.3" fill="#20ffc0" stroke="#000" stroke-width="0.35" stroke-linejoin="round" stroke-opacity="0.45"/>
<polygon points="371.4,491.7 377.2,489.5 378.4,448.4 372.6,450.4" fill="#10b48c" stroke="#000" stroke-width="0.35" stroke-linejoin="round" stroke-opacity="0.45"/>
<polygon points="366.9,447.3 372.6,450.4 378.4,448.4 372.6,445.3" fill="#20e8b0" stroke="#000" stroke-width="0.35" stroke-linejoin="round" stroke-opacity="0.45"/>
<polygon points="342.5,487.9 348.2,491.1 349,456.2 343.4,453.1" fill="#0000ff" stroke="#000" stroke-width="0.35" stroke-linejoin="round" stroke-opacity="0.45"/>
<polygon points="348.2,491.1 354,488.9 354.8,454.1 349,456.2" fill="#0000b4" stroke="#000" stroke-width="0.35" stroke-linejoin="round" stroke-opacity="0.45"/>
<polygon points="343.4,453.1 349,456.2 354.8,454.1 349.2,451" fill="#1818e0" stroke="#000" stroke-width="0.35" stroke-linejoin="round" stroke-opacity="0.45"/>
<polygon points="352.3,493.4 358,496.6 359,459.8 353.3,456.7" fill="#0000ff" stroke="#000" stroke-width="0.35" stroke-linejoin="round" stroke-opacity="0.45"/>
<polygon points="358,496.6 363.8,494.5 364.8,457.7 359,459.8" fill="#0000b4" stroke="#000" stroke-width="0.35" stroke-linejoin="round" stroke-opacity="0.45"/>
<polygon points="353.3,456.7 359,459.8 364.8,457.7 359.1,454.6" fill="#1818e0" stroke="#000" stroke-width="0.35" stroke-linejoin="round" stroke-opacity="0.45"/>
<line x1="269.8" y1="452.2" x2="271.2" y2="331" stroke="#000" stroke-width="1.1"/>
<line x1="269.8" y1="452.2" x2="353.9" y2="500.1" stroke="#000" stroke-width="1.1"/>
<line x1="353.9" y1="500.1" x2="455.1" y2="462.5" stroke="#000" stroke-width="1.1"/>
<line x1="269.8" y1="452.2" x2="267" y2="453.1" stroke="#000" stroke-width="0.8"/>
<line x1="269.9" y1="443.7" x2="268.4" y2="444.2" stroke="#000" stroke-width="0.8"/>
<line x1="270" y1="435.1" x2="267.2" y2="436.1" stroke="#000" stroke-width="0.8"/>
<line x1="270.1" y1="426.6" x2="268.6" y2="427.1" stroke="#000" stroke-width="0.8"/>
<line x1="270.2" y1="418" x2="267.4" y2="419" stroke="#000" stroke-width="0.8"/>
<line x1="270.3" y1="409.4" x2="268.8" y2="410" stroke="#000" stroke-width="0.8"/>
<line x1="270.4" y1="400.8" x2="267.6" y2="401.8" stroke="#000" stroke-width="0.8"/>
<line x1="270.5" y1="392.2" x2="269" y2="392.7" stroke="#000" stroke-width="0.8"/>
<line x1="270.6" y1="383.5" x2="267.8" y2="384.5" stroke="#000" stroke-width="0.8"/>
<line x1="270.7" y1="374.8" x2="269.2" y2="375.3" stroke="#000" stroke-width="0.8"/>
<line x1="270.8" y1="366.1" x2="268" y2="367.1" stroke="#000" stroke-width="0.8"/>
<line x1="270.9" y1="357.4" x2="269.4" y2="357.9" stroke="#000" stroke-width="0.8"/>
<line x1="271" y1="348.6" x2="268.2" y2="349.5" stroke="#000" stroke-width="0.8"/>
<line x1="271.1" y1="339.8" x2="269.6" y2="340.3" stroke="#000" stroke-width="0.8"/>
<line x1="271.2" y1="331" x2="268.4" y2="331.9" stroke="#000" stroke-width="0.8"/>
<line x1="272.8" y1="453.8" x2="269.9" y2="454.8" stroke="#000" stroke-width="0.8"/>
<line x1="280.2" y1="458.1" x2="278.6" y2="458.6" stroke="#000" stroke-width="0.8"/>
<line x1="287.7" y1="462.3" x2="284.8" y2="463.3" stroke="#000" stroke-width="0.8"/>
<line x1="295.2" y1="466.6" x2="293.7" y2="467.2" stroke="#000" stroke-width="0.8"/>
<line x1="302.8" y1="471" x2="300" y2="471.9" stroke="#000" stroke-width="0.8"/>
<line x1="310.5" y1="475.3" x2="308.9" y2="475.9" stroke="#000" stroke-width="0.8"/>
<line x1="318.2" y1="479.7" x2="315.4" y2="480.7" stroke="#000" stroke-width="0.8"/>
<line x1="326.1" y1="484.2" x2="324.5" y2="484.7" stroke="#000" stroke-width="0.8"/>
<line x1="333.9" y1="488.7" x2="331.1" y2="489.6" stroke="#000" stroke-width="0.8"/>
<line x1="341.9" y1="493.2" x2="340.3" y2="493.7" stroke="#000" stroke-width="0.8"/>
<line x1="349.9" y1="497.8" x2="347" y2="498.7" stroke="#000" stroke-width="0.8"/>
<line x1="362.6" y1="496.8" x2="365.2" y2="498.3" stroke="#000" stroke-width="0.8"/>
<line x1="370.3" y1="494" x2="371.8" y2="494.8" stroke="#000" stroke-width="0.8"/>
<line x1="378" y1="491.1" x2="380.6" y2="492.6" stroke="#000" stroke-width="0.8"/>
<line x1="385.6" y1="488.3" x2="387" y2="489.1" stroke="#000" stroke-width="0.8"/>
<line x1="393.1" y1="485.5" x2="395.7" y2="487" stroke="#000" stroke-width="0.8"/>
<line x1="400.6" y1="482.7" x2="402.1" y2="483.5" stroke="#000" stroke-width="0.8"/>
<line x1="408.1" y1="479.9" x2="410.7" y2="481.4" stroke="#000" stroke-width="0.8"/>
<line x1="415.5" y1="477.2" x2="416.9" y2="478" stroke="#000" stroke-width="0.8"/>
<line x1="422.8" y1="474.5" x2="425.4" y2="476" stroke="#000" stroke-width="0.8"/>
<line x1="430.1" y1="471.8" x2="431.6" y2="472.6" stroke="#000" stroke-width="0.8"/>
<line x1="437.4" y1="469.1" x2="440" y2="470.6" stroke="#000" stroke-width="0.8"/>
<line x1="444.6" y1="466.4" x2="446" y2="467.2" stroke="#000" stroke-width="0.8"/>
<line x1="451.7" y1="463.7" x2="454.3" y2="465.2" stroke="#000" stroke-width="0.8"/>
<text transform="matrix(0.995 -0.105 -0.107 1.017 265.6 456.3)" font-size="8.3" text-anchor="end">0.00</text>
<text transform="matrix(0.995 -0.105 -0.107 1.017 265.8 439.3)" font-size="8.3" text-anchor="end">0.05</text>
<text transform="matrix(0.995 -0.105 -0.107 1.017 266 422.2)" font-size="8.3" text-anchor="end">0.10</text>
<text transform="matrix(0.995 -0.105 -0.107 1.017 266.2 405)" font-size="8.3" text-anchor="end">0.15</text>
<text transform="matrix(0.995 -0.105 -0.107 1.017 266.4 387.7)" font-size="8.3" text-anchor="end">0.20</text>
<text transform="matrix(0.995 -0.105 -0.107 1.017 266.6 370.3)" font-size="8.3" text-anchor="end">0.25</text>
<text transform="matrix(0.995 -0.105 -0.107 1.017 266.8 352.8)" font-size="8.3" text-anchor="end">0.30</text>
<text transform="matrix(0.995 -0.105 -0.107 1.017 267 335.2)" font-size="8.3" text-anchor="end">0.35</text>
<text transform="matrix(1.394 -0.400 0.724 0.833 268.2 457.8)" font-size="5" text-anchor="end">0</text>
<text transform="matrix(1.394 -0.400 0.724 0.833 283.1 466.3)" font-size="5" text-anchor="end">10,000</text>
<text transform="matrix(1.394 -0.400 0.724 0.833 298.3 474.9)" font-size="5" text-anchor="end">20,000</text>
<text transform="matrix(1.394 -0.400 0.724 0.833 313.7 483.7)" font-size="5" text-anchor="end">30,000</text>
<text transform="matrix(1.394 -0.400 0.724 0.833 329.4 492.6)" font-size="5" text-anchor="end">40,000</text>
<text transform="matrix(1.394 -0.400 0.724 0.833 345.3 501.7)" font-size="5" text-anchor="end">50,000</text>
<text transform="matrix(1.104 0.587 -0.791 0.712 365.5 502.1)" font-size="5" text-anchor="start">0</text>
<text transform="matrix(1.104 0.587 -0.791 0.712 380.9 496.3)" font-size="5" text-anchor="start">5,000</text>
<text transform="matrix(1.104 0.587 -0.791 0.712 396 490.7)" font-size="5" text-anchor="start">10,000</text>
<text transform="matrix(1.104 0.587 -0.791 0.712 411 485.2)" font-size="5" text-anchor="start">15,000</text>
<text transform="matrix(1.104 0.587 -0.791 0.712 425.7 479.7)" font-size="5" text-anchor="start">20,000</text>
<text transform="matrix(1.104 0.587 -0.791 0.712 440.3 474.3)" font-size="5" text-anchor="start">25,000</text>
<text transform="matrix(1.104 0.587 -0.791 0.712 454.6 469)" font-size="5" text-anchor="start">30,000</text>
<text transform="matrix(0.000 1.000 -1.000 0.000 244 399)" font-size="10.35" text-anchor="middle">Tensile stress(MPa)</text>
<text transform="matrix(1.039 0.600 -0.781 0.704 280.3 487.4)" font-size="6.8" text-anchor="middle">X direction coordinate(mm)</text>
<text transform="matrix(1.304 -0.426 0.444 0.907 431.1 497.2)" font-size="6.8" text-anchor="middle">Y direction coordinate(mm)</text>
<text x="358.8" y="544.3" font-size="12" text-anchor="middle">(<tspan font-weight="bold">c</tspan>)</text>
<polygon points="124.3,199.6 252.5,157.2 257,6.1 125.1,43.4" fill="#fff" stroke="none" stroke-width="0"/>
<polygon points="252.5,157.2 361.2,214.4 369.3,58.2 257,6.1" fill="#fff" stroke="none" stroke-width="0"/>
<polygon points="124.3,199.6 231.8,261.3 361.2,214.4 252.5,157.2" fill="#fff" stroke="none" stroke-width="0"/>
<line x1="135.2" y1="196" x2="136.4" y2="40.2" stroke="#d4d4d4" stroke-width="0.6"/>
<line x1="135.2" y1="196" x2="242.9" y2="257.3" stroke="#e6e6e6" stroke-width="0.5"/>
<line x1="154.6" y1="189.6" x2="156.3" y2="34.5" stroke="#d4d4d4" stroke-width="0.6"/>
<line x1="154.6" y1="189.6" x2="262.5" y2="250.2" stroke="#e6e6e6" stroke-width="0.5"/>
<line x1="173.8" y1="183.2" x2="176.1" y2="29" stroke="#d4d4d4" stroke-width="0.6"/>
<line x1="173.8" y1="183.2" x2="281.8" y2="243.2" stroke="#e6e6e6" stroke-width="0.5"/>
<line x1="192.7" y1="177" x2="195.5" y2="23.5" stroke="#d4d4d4" stroke-width="0.6"/>
<line x1="192.7" y1="177" x2="300.9" y2="236.2" stroke="#e6e6e6" stroke-width="0.5"/>
<line x1="211.4" y1="170.8" x2="214.8" y2="18" stroke="#d4d4d4" stroke-width="0.6"/>
<line x1="211.4" y1="170.8" x2="319.8" y2="229.4" stroke="#e6e6e6" stroke-width="0.5"/>
<line x1="229.9" y1="164.7" x2="233.8" y2="12.7" stroke="#d4d4d4" stroke-width="0.6"/>
<line x1="229.9" y1="164.7" x2="338.4" y2="222.7" stroke="#e6e6e6" stroke-width="0.5"/>
<line x1="248.1" y1="158.6" x2="252.5" y2="7.4" stroke="#d4d4d4" stroke-width="0.6"/>
<line x1="248.1" y1="158.6" x2="356.8" y2="216" stroke="#e6e6e6" stroke-width="0.5"/>
<line x1="256.3" y1="159.2" x2="261" y2="7.9" stroke="#d4d4d4" stroke-width="0.6"/>
<line x1="128" y1="201.8" x2="256.3" y2="159.2" stroke="#e6e6e6" stroke-width="0.5"/>
<line x1="275.6" y1="169.4" x2="280.9" y2="17.2" stroke="#d4d4d4" stroke-width="0.6"/>
<line x1="147.1" y1="212.7" x2="275.6" y2="169.4" stroke="#e6e6e6" stroke-width="0.5"/>
<line x1="295.2" y1="179.7" x2="301.1" y2="26.6" stroke="#d4d4d4" stroke-width="0.6"/>
<line x1="166.5" y1="223.9" x2="295.2" y2="179.7" stroke="#e6e6e6" stroke-width="0.5"/>
<line x1="315.2" y1="190.2" x2="321.7" y2="36.1" stroke="#d4d4d4" stroke-width="0.6"/>
<line x1="186.2" y1="235.2" x2="315.2" y2="190.2" stroke="#e6e6e6" stroke-width="0.5"/>
<line x1="335.4" y1="200.8" x2="342.6" y2="45.9" stroke="#d4d4d4" stroke-width="0.6"/>
<line x1="206.3" y1="246.7" x2="335.4" y2="200.8" stroke="#e6e6e6" stroke-width="0.5"/>
<line x1="356" y1="211.7" x2="363.9" y2="55.7" stroke="#d4d4d4" stroke-width="0.6"/>
<line x1="226.7" y1="258.3" x2="356" y2="211.7" stroke="#e6e6e6" stroke-width="0.5"/>
<line x1="124.3" y1="184.4" x2="252.9" y2="142.5" stroke="#d4d4d4" stroke-width="0.6"/>
<line x1="252.9" y1="142.5" x2="362" y2="199.2" stroke="#d4d4d4" stroke-width="0.6"/>
<line x1="124.4" y1="169.1" x2="253.4" y2="127.7" stroke="#d4d4d4" stroke-width="0.6"/>
<line x1="253.4" y1="127.7" x2="362.8" y2="183.9" stroke="#d4d4d4" stroke-width="0.6"/>
<line x1="124.5" y1="153.7" x2="253.8" y2="112.8" stroke="#d4d4d4" stroke-width="0.6"/>
<line x1="253.8" y1="112.8" x2="363.6" y2="168.5" stroke="#d4d4d4" stroke-width="0.6"/>
<line x1="124.6" y1="138.3" x2="254.2" y2="97.8" stroke="#d4d4d4" stroke-width="0.6"/>
<line x1="254.2" y1="97.8" x2="364.4" y2="153.1" stroke="#d4d4d4" stroke-width="0.6"/>
<line x1="124.7" y1="122.7" x2="254.7" y2="82.7" stroke="#d4d4d4" stroke-width="0.6"/>
<line x1="254.7" y1="82.7" x2="365.2" y2="137.5" stroke="#d4d4d4" stroke-width="0.6"/>
<line x1="124.8" y1="107" x2="255.2" y2="67.6" stroke="#d4d4d4" stroke-width="0.6"/>
<line x1="255.2" y1="67.6" x2="366" y2="121.8" stroke="#d4d4d4" stroke-width="0.6"/>
<line x1="124.8" y1="91.2" x2="255.6" y2="52.3" stroke="#d4d4d4" stroke-width="0.6"/>
<line x1="255.6" y1="52.3" x2="366.8" y2="106.1" stroke="#d4d4d4" stroke-width="0.6"/>
<line x1="124.9" y1="75.4" x2="256.1" y2="37" stroke="#d4d4d4" stroke-width="0.6"/>
<line x1="256.1" y1="37" x2="367.6" y2="90.2" stroke="#d4d4d4" stroke-width="0.6"/>
<line x1="125" y1="59.4" x2="256.5" y2="21.6" stroke="#d4d4d4" stroke-width="0.6"/>
<line x1="256.5" y1="21.6" x2="368.4" y2="74.3" stroke="#d4d4d4" stroke-width="0.6"/>
<line x1="125.1" y1="43.4" x2="257" y2="6.1" stroke="#8c8c8c" stroke-width="0.7"/>
<line x1="257" y1="6.1" x2="369.3" y2="58.2" stroke="#8c8c8c" stroke-width="0.7"/>
<line x1="369.3" y1="58.2" x2="361.2" y2="214.4" stroke="#8c8c8c" stroke-width="0.7"/>
<line x1="252.5" y1="157.2" x2="257" y2="6.1" stroke="#8c8c8c" stroke-width="0.7"/>
<line x1="252.5" y1="157.2" x2="361.2" y2="214.4" stroke="#8c8c8c" stroke-width="0.7"/>
<line x1="124.3" y1="199.6" x2="252.5" y2="157.2" stroke="#8c8c8c" stroke-width="0.7"/>
<polygon points="240.1,162.3 246.9,165.9 249.9,64.2 242.9,60.8" fill="#ff0000" stroke="#000" stroke-width="0.35" stroke-linejoin="round" stroke-opacity="0.45"/>
<polygon points="246.9,165.9 253.7,163.7 256.8,62.1 249.9,64.2" fill="#c80000" stroke="#000" stroke-width="0.35" stroke-linejoin="round" stroke-opacity="0.45"/>
<polygon points="242.9,60.8 249.9,64.2 256.8,62.1 249.9,58.7" fill="#e60000" stroke="#000" stroke-width="0.35" stroke-linejoin="round" stroke-opacity="0.45"/>
<polygon points="251.9,168.6 258.7,172.2 261.7,79.3 254.7,75.9" fill="#ffa200" stroke="#000" stroke-width="0.35" stroke-linejoin="round" stroke-opacity="0.45"/>
<polygon points="258.7,172.2 265.6,169.9 268.6,77.2 261.7,79.3" fill="#cc7a08" stroke="#000" stroke-width="0.35" stroke-linejoin="round" stroke-opacity="0.45"/>
<polygon points="254.7,75.9 261.7,79.3 268.6,77.2 261.6,73.7" fill="#ea8e14" stroke="#000" stroke-width="0.35" stroke-linejoin="round" stroke-opacity="0.45"/>
<polygon points="225.1,167.3 231.9,170.9 234.6,69.7 227.6,66.3" fill="#ff0000" stroke="#000" stroke-width="0.35" stroke-linejoin="round" stroke-opacity="0.45"/>
<polygon points="231.9,170.9 238.8,168.6 241.6,67.6 234.6,69.7" fill="#c80000" stroke="#000" stroke-width="0.35" stroke-linejoin="round" stroke-opacity="0.45"/>
<polygon points="227.6,66.3 234.6,69.7 241.6,67.6 234.7,64.2" fill="#e60000" stroke="#000" stroke-width="0.35" stroke-linejoin="round" stroke-opacity="0.45"/>
<polygon points="263.8,174.9 270.7,178.6 273.8,86.5 266.7,83.1" fill="#80ff00" stroke="#000" stroke-width="0.35" stroke-linejoin="round" stroke-opacity="0.45"/>
<polygon points="270.7,178.6 277.5,176.3 280.7,84.4 273.8,86.5" fill="#54b010" stroke="#000" stroke-width="0.35" stroke-linejoin="round" stroke-opacity="0.45"/>
<polygon points="266.7,83.1 273.8,86.5 280.7,84.4 273.7,80.9" fill="#66dc12" stroke="#000" stroke-width="0.35" stroke-linejoin="round" stroke-opacity="0.45"/>
<polygon points="236.9,173.6 243.7,177.3 246.2,89.2 239.3,85.7" fill="#80ff00" stroke="#000" stroke-width="0.35" stroke-linejoin="round" stroke-opacity="0.45"/>
<polygon points="243.7,177.3 250.6,175 253.3,87.1 246.2,89.2" fill="#54b010" stroke="#000" stroke-width="0.35" stroke-linejoin="round" stroke-opacity="0.45"/>
<polygon points="239.3,85.7 246.2,89.2 253.3,87.1 246.3,83.6" fill="#66dc12" stroke="#000" stroke-width="0.35" stroke-linejoin="round" stroke-opacity="0.45"/>
<polygon points="275.8,181.3 282.8,185 286.1,92.9 279,89.4" fill="#80ff00" stroke="#000" stroke-width="0.35" stroke-linejoin="round" stroke-opacity="0.45"/>
<polygon points="282.8,185 289.6,182.6 293,90.7 286.1,92.9" fill="#54b010" stroke="#000" stroke-width="0.35" stroke-linejoin="round" stroke-opacity="0.45"/>
<polygon points="279,89.4 286.1,92.9 293,90.7 285.9,87.2" fill="#66dc12" stroke="#000" stroke-width="0.35" stroke-linejoin="round" stroke-opacity="0.45"/>
<polygon points="195,177.3 201.8,181 203.8,80.2 196.9,76.7" fill="#ff0000" stroke="#000" stroke-width="0.35" stroke-linejoin="round" stroke-opacity="0.45"/>
<polygon points="201.8,181 208.8,178.7 211,78 203.8,80.2" fill="#c80000" stroke="#000" stroke-width="0.35" stroke-linejoin="round" stroke-opacity="0.45"/>
<polygon points="196.9,76.7 203.8,80.2 211,78 204.1,74.5" fill="#e60000" stroke="#000" stroke-width="0.35" stroke-linejoin="round" stroke-opacity="0.45"/>
<polygon points="248.8,180 255.7,183.7 257.7,117.1 250.7,113.6" fill="#800080" stroke="#000" stroke-width="0.35" stroke-linejoin="round" stroke-opacity="0.45"/>
<polygon points="255.7,183.7 262.6,181.3 264.7,114.9 257.7,117.1" fill="#580058" stroke="#000" stroke-width="0.35" stroke-linejoin="round" stroke-opacity="0.45"/>
<polygon points="250.7,113.6 257.7,117.1 264.7,114.9 257.7,111.4" fill="#700070" stroke="#000" stroke-width="0.35" stroke-linejoin="round" stroke-opacity="0.45"/>
<polygon points="180.5,182.1 187.2,185.8 189,84.9 182.1,81.4" fill="#ff0000" stroke="#000" stroke-width="0.35" stroke-linejoin="round" stroke-opacity="0.45"/>
<polygon points="187.2,185.8 194.3,183.5 196.2,82.8 189,84.9" fill="#c80000" stroke="#000" stroke-width="0.35" stroke-linejoin="round" stroke-opacity="0.45"/>
<polygon points="182.1,81.4 189,84.9 196.2,82.8 189.3,79.3" fill="#e60000" stroke="#000" stroke-width="0.35" stroke-linejoin="round" stroke-opacity="0.45"/>
<polygon points="287.9,187.7 294.9,191.5 298.6,97.2 291.4,93.6" fill="#ffa200" stroke="#000" stroke-width="0.35" stroke-linejoin="round" stroke-opacity="0.45"/>
<polygon points="294.9,191.5 301.8,189.1 305.5,95 298.6,97.2" fill="#cc7a08" stroke="#000" stroke-width="0.35" stroke-linejoin="round" stroke-opacity="0.45"/>
<polygon points="291.4,93.6 298.6,97.2 305.5,95 298.3,91.5" fill="#ea8e14" stroke="#000" stroke-width="0.35" stroke-linejoin="round" stroke-opacity="0.45"/>
<polygon points="206.7,183.7 213.6,187.4 215.6,98.7 208.6,95.1" fill="#80ff00" stroke="#000" stroke-width="0.35" stroke-linejoin="round" stroke-opacity="0.45"/>
<polygon points="213.6,187.4 220.6,185.1 222.7,96.5 215.6,98.7" fill="#54b010" stroke="#000" stroke-width="0.35" stroke-linejoin="round" stroke-opacity="0.45"/>
<polygon points="208.6,95.1 215.6,98.7 222.7,96.5 215.8,93" fill="#66dc12" stroke="#000" stroke-width="0.35" stroke-linejoin="round" stroke-opacity="0.45"/>
<polygon points="260.7,186.4 267.7,190.2 270.7,99.9 263.6,96.3" fill="#80ff00" stroke="#000" stroke-width="0.35" stroke-linejoin="round" stroke-opacity="0.45"/>
<polygon points="267.7,190.2 274.6,187.8 277.7,97.7 270.7,99.9" fill="#54b010" stroke="#000" stroke-width="0.35" stroke-linejoin="round" stroke-opacity="0.45"/>
<polygon points="263.6,96.3 270.7,99.9 277.7,97.7 270.6,94.1" fill="#66dc12" stroke="#000" stroke-width="0.35" stroke-linejoin="round" stroke-opacity="0.45"/>
<polygon points="192.2,188.6 199,192.3 200.8,103.6 193.8,100" fill="#80ff00" stroke="#000" stroke-width="0.35" stroke-linejoin="round" stroke-opacity="0.45"/>
<polygon points="199,192.3 206.1,190 208,101.3 200.8,103.6" fill="#54b010" stroke="#000" stroke-width="0.35" stroke-linejoin="round" stroke-opacity="0.45"/>
<polygon points="193.8,100 200.8,103.6 208,101.3 201,97.8" fill="#66dc12" stroke="#000" stroke-width="0.35" stroke-linejoin="round" stroke-opacity="0.45"/>
<polygon points="300.1,194.2 307.2,198 311,106.5 303.7,102.9" fill="#80ff00" stroke="#000" stroke-width="0.35" stroke-linejoin="round" stroke-opacity="0.45"/>
<polygon points="307.2,198 314.1,195.6 318,104.3 311,106.5" fill="#54b010" stroke="#000" stroke-width="0.35" stroke-linejoin="round" stroke-opacity="0.45"/>
<polygon points="303.7,102.9 311,106.5 318,104.3 310.7,100.7" fill="#66dc12" stroke="#000" stroke-width="0.35" stroke-linejoin="round" stroke-opacity="0.45"/>
<polygon points="218.6,190.2 225.5,194 227.1,126.9 220.2,123.3" fill="#800080" stroke="#000" stroke-width="0.35" stroke-linejoin="round" stroke-opacity="0.45"/>
<polygon points="225.5,194 232.5,191.6 234.3,124.6 227.1,126.9" fill="#580058" stroke="#000" stroke-width="0.35" stroke-linejoin="round" stroke-opacity="0.45"/>
<polygon points="220.2,123.3 227.1,126.9 234.3,124.6 227.3,121" fill="#700070" stroke="#000" stroke-width="0.35" stroke-linejoin="round" stroke-opacity="0.45"/>
<polygon points="272.8,192.9 279.9,196.7 283.2,103.3 276,99.7" fill="#ffa200" stroke="#000" stroke-width="0.35" stroke-linejoin="round" stroke-opacity="0.45"/>
<polygon points="279.9,196.7 286.8,194.3 290.3,101 283.2,103.3" fill="#cc7a08" stroke="#000" stroke-width="0.35" stroke-linejoin="round" stroke-opacity="0.45"/>
<polygon points="276,99.7 283.2,103.3 290.3,101 283.1,97.5" fill="#ea8e14" stroke="#000" stroke-width="0.35" stroke-linejoin="round" stroke-opacity="0.45"/>
<polygon points="150.1,192.2 156.9,196 158.1,93.3 151.2,89.8" fill="#ff0000" stroke="#000" stroke-width="0.35" stroke-linejoin="round" stroke-opacity="0.45"/>
<polygon points="156.9,196 164.1,193.6 165.4,91.1 158.1,93.3" fill="#c80000" stroke="#000" stroke-width="0.35" stroke-linejoin="round" stroke-opacity="0.45"/>
<polygon points="151.2,89.8 158.1,93.3 165.4,91.1 158.6,87.6" fill="#e60000" stroke="#000" stroke-width="0.35" stroke-linejoin="round" stroke-opacity="0.45"/>
<polygon points="204,195.1 210.9,198.9 212.4,131.6 205.4,127.9" fill="#800080" stroke="#000" stroke-width="0.35" stroke-linejoin="round" stroke-opacity="0.45"/>
<polygon points="210.9,198.9 218,196.5 219.6,129.3 212.4,131.6" fill="#580058" stroke="#000" stroke-width="0.35" stroke-linejoin="round" stroke-opacity="0.45"/>
<polygon points="205.4,127.9 212.4,131.6 219.6,129.3 212.6,125.7" fill="#700070" stroke="#000" stroke-width="0.35" stroke-linejoin="round" stroke-opacity="0.45"/>
<polygon points="312.5,200.8 319.7,204.6 324.3,97.4 317,93.8" fill="#ff0000" stroke="#000" stroke-width="0.35" stroke-linejoin="round" stroke-opacity="0.45"/>
<polygon points="319.7,204.6 326.5,202.2 331.3,95.1 324.3,97.4" fill="#c80000" stroke="#000" stroke-width="0.35" stroke-linejoin="round" stroke-opacity="0.45"/>
<polygon points="317,93.8 324.3,97.4 331.3,95.1 324,91.6" fill="#e60000" stroke="#000" stroke-width="0.35" stroke-linejoin="round" stroke-opacity="0.45"/>
<polygon points="230.5,196.7 237.5,200.5 240,109.2 232.9,105.6" fill="#80ff00" stroke="#000" stroke-width="0.35" stroke-linejoin="round" stroke-opacity="0.45"/>
<polygon points="237.5,200.5 244.5,198.1 247.1,107 240,109.2" fill="#54b010" stroke="#000" stroke-width="0.35" stroke-linejoin="round" stroke-opacity="0.45"/>
<polygon points="232.9,105.6 240,109.2 247.1,107 240.1,103.4" fill="#66dc12" stroke="#000" stroke-width="0.35" stroke-linejoin="round" stroke-opacity="0.45"/>
<polygon points="285.1,199.5 292.2,203.3 295.6,112.6 288.4,109" fill="#80ff00" stroke="#000" stroke-width="0.35" stroke-linejoin="round" stroke-opacity="0.45"/>
<polygon points="292.2,203.3 299.1,200.8 302.7,110.4 295.6,112.6" fill="#54b010" stroke="#000" stroke-width="0.35" stroke-linejoin="round" stroke-opacity="0.45"/>
<polygon points="288.4,109 295.6,112.6 302.7,110.4 295.4,106.8" fill="#66dc12" stroke="#000" stroke-width="0.35" stroke-linejoin="round" stroke-opacity="0.45"/>
<polygon points="161.8,198.7 168.6,202.6 169.9,113.4 162.9,109.8" fill="#80ff00" stroke="#000" stroke-width="0.35" stroke-linejoin="round" stroke-opacity="0.45"/>
<polygon points="168.6,202.6 175.8,200.1 177.2,111.1 169.9,113.4" fill="#54b010" stroke="#000" stroke-width="0.35" stroke-linejoin="round" stroke-opacity="0.45"/>
<polygon points="162.9,109.8 169.9,113.4 177.2,111.1 170.3,107.5" fill="#66dc12" stroke="#000" stroke-width="0.35" stroke-linejoin="round" stroke-opacity="0.45"/>
<polygon points="216,201.7 222.9,205.5 225.2,113 218.1,109.3" fill="#80ff00" stroke="#000" stroke-width="0.35" stroke-linejoin="round" stroke-opacity="0.45"/>
<polygon points="222.9,205.5 230,203.1 232.4,110.7 225.2,113" fill="#54b010" stroke="#000" stroke-width="0.35" stroke-linejoin="round" stroke-opacity="0.45"/>
<polygon points="218.1,109.3 225.2,113 232.4,110.7 225.3,107.1" fill="#66dc12" stroke="#000" stroke-width="0.35" stroke-linejoin="round" stroke-opacity="0.45"/>
<polygon points="133.2,197.8 139.9,201.6 140.8,97.9 134,94.3" fill="#ff0000" stroke="#000" stroke-width="0.35" stroke-linejoin="round" stroke-opacity="0.45"/>
<polygon points="139.9,201.6 147.2,199.2 148.3,95.7 140.8,97.9" fill="#c80000" stroke="#000" stroke-width="0.35" stroke-linejoin="round" stroke-opacity="0.45"/>
<polygon points="134,94.3 140.8,97.9 148.3,95.7 141.4,92.1" fill="#e60000" stroke="#000" stroke-width="0.35" stroke-linejoin="round" stroke-opacity="0.45"/>
<polygon points="324.9,207.4 332.2,211.3 337.1,104.3 329.7,100.6" fill="#ff0000" stroke="#000" stroke-width="0.35" stroke-linejoin="round" stroke-opacity="0.45"/>
<polygon points="332.2,211.3 339.1,208.8 344.1,102 337.1,104.3" fill="#c80000" stroke="#000" stroke-width="0.35" stroke-linejoin="round" stroke-opacity="0.45"/>
<polygon points="329.7,100.6 337.1,104.3 344.1,102 336.7,98.4" fill="#e60000" stroke="#000" stroke-width="0.35" stroke-linejoin="round" stroke-opacity="0.45"/>
<polygon points="242.6,203.3 249.6,207.2 252.4,113.3 245.3,109.7" fill="#ffa200" stroke="#000" stroke-width="0.35" stroke-linejoin="round" stroke-opacity="0.45"/>
<polygon points="249.6,207.2 256.7,204.7 259.6,111.1 252.4,113.3" fill="#cc7a08" stroke="#000" stroke-width="0.35" stroke-linejoin="round" stroke-opacity="0.45"/>
<polygon points="245.3,109.7 252.4,113.3 259.6,111.1 252.4,107.4" fill="#ea8e14" stroke="#000" stroke-width="0.35" stroke-linejoin="round" stroke-opacity="0.45"/>
<polygon points="297.4,206.1 304.6,209.9 308.1,123.4 300.8,119.7" fill="#20ffc0" stroke="#000" stroke-width="0.35" stroke-linejoin="round" stroke-opacity="0.45"/>
<polygon points="304.6,209.9 311.5,207.5 315.1,121.1 308.1,123.4" fill="#10b48c" stroke="#000" stroke-width="0.35" stroke-linejoin="round" stroke-opacity="0.45"/>
<polygon points="300.8,119.7 308.1,123.4 315.1,121.1 307.8,117.4" fill="#20e8b0" stroke="#000" stroke-width="0.35" stroke-linejoin="round" stroke-opacity="0.45"/>
<polygon points="173.6,205.4 180.5,209.3 181.6,141.4 174.6,137.7" fill="#800080" stroke="#000" stroke-width="0.35" stroke-linejoin="round" stroke-opacity="0.45"/>
<polygon points="180.5,209.3 187.7,206.8 188.9,139.1 181.6,141.4" fill="#580058" stroke="#000" stroke-width="0.35" stroke-linejoin="round" stroke-opacity="0.45"/>
<polygon points="174.6,137.7 181.6,141.4 188.9,139.1 181.9,135.4" fill="#700070" stroke="#000" stroke-width="0.35" stroke-linejoin="round" stroke-opacity="0.45"/>
<polygon points="228,208.4 235,212.2 237.6,117.1 230.4,113.4" fill="#ffa200" stroke="#000" stroke-width="0.35" stroke-linejoin="round" stroke-opacity="0.45"/>
<polygon points="235,212.2 242.2,209.8 244.9,114.8 237.6,117.1" fill="#cc7a08" stroke="#000" stroke-width="0.35" stroke-linejoin="round" stroke-opacity="0.45"/>
<polygon points="230.4,113.4 237.6,117.1 244.9,114.8 237.7,111.2" fill="#ea8e14" stroke="#000" stroke-width="0.35" stroke-linejoin="round" stroke-opacity="0.45"/>
<polygon points="144.9,204.4 151.7,208.3 152.7,109.3 145.8,105.6" fill="#ffa200" stroke="#000" stroke-width="0.35" stroke-linejoin="round" stroke-opacity="0.45"/>
<polygon points="151.7,208.3 159,205.8 160.2,107 152.7,109.3" fill="#cc7a08" stroke="#000" stroke-width="0.35" stroke-linejoin="round" stroke-opacity="0.45"/>
<polygon points="145.8,105.6 152.7,109.3 160.2,107 153.2,103.3" fill="#ea8e14" stroke="#000" stroke-width="0.35" stroke-linejoin="round" stroke-opacity="0.45"/>
<polygon points="337.5,214.1 344.9,218 350.2,109 342.7,105.4" fill="#ff0000" stroke="#000" stroke-width="0.35" stroke-linejoin="round" stroke-opacity="0.45"/>
<polygon points="344.9,218 351.7,215.5 357.2,106.7 350.2,109" fill="#c80000" stroke="#000" stroke-width="0.35" stroke-linejoin="round" stroke-opacity="0.45"/>
<polygon points="342.7,105.4 350.2,109 357.2,106.7 349.7,103.1" fill="#e60000" stroke="#000" stroke-width="0.35" stroke-linejoin="round" stroke-opacity="0.45"/>
<polygon points="254.8,210 261.9,213.9 264.8,122.9 257.6,119.2" fill="#80ff00" stroke="#000" stroke-width="0.35" stroke-linejoin="round" stroke-opacity="0.45"/>
<polygon points="261.9,213.9 268.9,211.4 272,120.6 264.8,122.9" fill="#54b010" stroke="#000" stroke-width="0.35" stroke-linejoin="round" stroke-opacity="0.45"/>
<polygon points="257.6,119.2 264.8,122.9 272,120.6 264.8,116.9" fill="#66dc12" stroke="#000" stroke-width="0.35" stroke-linejoin="round" stroke-opacity="0.45"/>
<polygon points="309.9,212.8 317.1,216.7 321,127.6 313.6,123.9" fill="#80ff00" stroke="#000" stroke-width="0.35" stroke-linejoin="round" stroke-opacity="0.45"/>
<polygon points="317.1,216.7 324.1,214.2 328,125.2 321,127.6" fill="#54b010" stroke="#000" stroke-width="0.35" stroke-linejoin="round" stroke-opacity="0.45"/>
<polygon points="313.6,123.9 321,127.6 328,125.2 320.6,121.6" fill="#66dc12" stroke="#000" stroke-width="0.35" stroke-linejoin="round" stroke-opacity="0.45"/>
<polygon points="185.5,212.1 192.4,216 194.2,123.3 187.1,119.6" fill="#80ff00" stroke="#000" stroke-width="0.35" stroke-linejoin="round" stroke-opacity="0.45"/>
<polygon points="192.4,216 199.7,213.5 201.5,121 194.2,123.3" fill="#54b010" stroke="#000" stroke-width="0.35" stroke-linejoin="round" stroke-opacity="0.45"/>
<polygon points="187.1,119.6 194.2,123.3 201.5,121 194.5,117.3" fill="#66dc12" stroke="#000" stroke-width="0.35" stroke-linejoin="round" stroke-opacity="0.45"/>
<polygon points="240.2,215.1 247.3,219 249.9,129.5 242.7,125.8" fill="#80ff00" stroke="#000" stroke-width="0.35" stroke-linejoin="round" stroke-opacity="0.45"/>
<polygon points="247.3,219 254.4,216.5 257.2,127.2 249.9,129.5" fill="#54b010" stroke="#000" stroke-width="0.35" stroke-linejoin="round" stroke-opacity="0.45"/>
<polygon points="242.7,125.8 249.9,129.5 257.2,127.2 249.9,123.5" fill="#66dc12" stroke="#000" stroke-width="0.35" stroke-linejoin="round" stroke-opacity="0.45"/>
<polygon points="156.6,211.1 163.5,215 164.7,118.5 157.8,114.8" fill="#ffa200" stroke="#000" stroke-width="0.35" stroke-linejoin="round" stroke-opacity="0.45"/>
<polygon points="163.5,215 170.8,212.5 172.2,116.2 164.7,118.5" fill="#cc7a08" stroke="#000" stroke-width="0.35" stroke-linejoin="round" stroke-opacity="0.45"/>
<polygon points="157.8,114.8 164.7,118.5 172.2,116.2 165.2,112.5" fill="#ea8e14" stroke="#000" stroke-width="0.35" stroke-linejoin="round" stroke-opacity="0.45"/>
<polygon points="267.1,216.7 274.3,220.7 277.3,134.7 270,130.9" fill="#20ffc0" stroke="#000" stroke-width="0.35" stroke-linejoin="round" stroke-opacity="0.45"/>
<polygon points="274.3,220.7 281.3,218.2 284.4,132.3 277.3,134.7" fill="#10b48c" stroke="#000" stroke-width="0.35" stroke-linejoin="round" stroke-opacity="0.45"/>
<polygon points="270,130.9 277.3,134.7 284.4,132.3 277.1,128.6" fill="#20e8b0" stroke="#000" stroke-width="0.35" stroke-linejoin="round" stroke-opacity="0.45"/>
<polygon points="322.5,219.5 329.8,223.4 334.6,117.5 327.1,113.8" fill="#ff0000" stroke="#000" stroke-width="0.35" stroke-linejoin="round" stroke-opacity="0.45"/>
<polygon points="329.8,223.4 336.7,220.9 341.7,115.2 334.6,117.5" fill="#c80000" stroke="#000" stroke-width="0.35" stroke-linejoin="round" stroke-opacity="0.45"/>
<polygon points="327.1,113.8 334.6,117.5 341.7,115.2 334.2,111.5" fill="#e60000" stroke="#000" stroke-width="0.35" stroke-linejoin="round" stroke-opacity="0.45"/>
<polygon points="197.5,218.9 204.5,222.8 206.6,126 199.4,122.2" fill="#ffa200" stroke="#000" stroke-width="0.35" stroke-linejoin="round" stroke-opacity="0.45"/>
<polygon points="204.5,222.8 211.8,220.3 214,123.6 206.6,126" fill="#cc7a08" stroke="#000" stroke-width="0.35" stroke-linejoin="round" stroke-opacity="0.45"/>
<polygon points="199.4,122.2 206.6,126 214,123.6 206.8,119.9" fill="#ea8e14" stroke="#000" stroke-width="0.35" stroke-linejoin="round" stroke-opacity="0.45"/>
<polygon points="252.5,221.9 259.7,225.8 262.5,137.9 255.2,134.2" fill="#20ffc0" stroke="#000" stroke-width="0.35" stroke-linejoin="round" stroke-opacity="0.45"/>
<polygon points="259.7,225.8 266.8,223.3 269.7,135.6 262.5,137.9" fill="#10b48c" stroke="#000" stroke-width="0.35" stroke-linejoin="round" stroke-opacity="0.45"/>
<polygon points="255.2,134.2 262.5,137.9 269.7,135.6 262.4,131.8" fill="#20e8b0" stroke="#000" stroke-width="0.35" stroke-linejoin="round" stroke-opacity="0.45"/>
<polygon points="168.5,217.9 175.4,221.9 176.9,128.4 169.8,124.7" fill="#80ff00" stroke="#000" stroke-width="0.35" stroke-linejoin="round" stroke-opacity="0.45"/>
<polygon points="175.4,221.9 182.8,219.3 184.3,126.1 176.9,128.4" fill="#54b010" stroke="#000" stroke-width="0.35" stroke-linejoin="round" stroke-opacity="0.45"/>
<polygon points="169.8,124.7 176.9,128.4 184.3,126.1 177.3,122.4" fill="#66dc12" stroke="#000" stroke-width="0.35" stroke-linejoin="round" stroke-opacity="0.45"/>
<polygon points="279.5,223.6 286.8,227.5 290.1,137.1 282.8,133.3" fill="#80ff00" stroke="#000" stroke-width="0.35" stroke-linejoin="round" stroke-opacity="0.45"/>
<polygon points="286.8,227.5 293.8,225 297.3,134.7 290.1,137.1" fill="#54b010" stroke="#000" stroke-width="0.35" stroke-linejoin="round" stroke-opacity="0.45"/>
<polygon points="282.8,133.3 290.1,137.1 297.3,134.7 289.9,131" fill="#66dc12" stroke="#000" stroke-width="0.35" stroke-linejoin="round" stroke-opacity="0.45"/>
<polygon points="209.7,225.7 216.7,229.7 218.9,136.7 211.7,132.9" fill="#80ff00" stroke="#000" stroke-width="0.35" stroke-linejoin="round" stroke-opacity="0.45"/>
<polygon points="216.7,229.7 224,227.2 226.3,134.3 218.9,136.7" fill="#54b010" stroke="#000" stroke-width="0.35" stroke-linejoin="round" stroke-opacity="0.45"/>
<polygon points="211.7,132.9 218.9,136.7 226.3,134.3 219.1,130.5" fill="#66dc12" stroke="#000" stroke-width="0.35" stroke-linejoin="round" stroke-opacity="0.45"/>
<polygon points="264.9,228.8 272.2,232.8 275.3,142 267.9,138.2" fill="#80ff00" stroke="#000" stroke-width="0.35" stroke-linejoin="round" stroke-opacity="0.45"/>
<polygon points="272.2,232.8 279.3,230.2 282.5,139.6 275.3,142" fill="#54b010" stroke="#000" stroke-width="0.35" stroke-linejoin="round" stroke-opacity="0.45"/>
<polygon points="267.9,138.2 275.3,142 282.5,139.6 275.2,135.8" fill="#66dc12" stroke="#000" stroke-width="0.35" stroke-linejoin="round" stroke-opacity="0.45"/>
<polygon points="180.5,224.8 187.5,228.7 189.2,130.8 182.1,127.1" fill="#ffa200" stroke="#000" stroke-width="0.35" stroke-linejoin="round" stroke-opacity="0.45"/>
<polygon points="187.5,228.7 194.8,226.2 196.7,128.5 189.2,130.8" fill="#cc7a08" stroke="#000" stroke-width="0.35" stroke-linejoin="round" stroke-opacity="0.45"/>
<polygon points="182.1,127.1 189.2,130.8 196.7,128.5 189.6,124.7" fill="#ea8e14" stroke="#000" stroke-width="0.35" stroke-linejoin="round" stroke-opacity="0.45"/>
<polygon points="292.1,230.4 299.4,234.4 303.6,128.3 296.2,124.5" fill="#ff0000" stroke="#000" stroke-width="0.35" stroke-linejoin="round" stroke-opacity="0.45"/>
<polygon points="299.4,234.4 306.5,231.9 310.8,125.9 303.6,128.3" fill="#c80000" stroke="#000" stroke-width="0.35" stroke-linejoin="round" stroke-opacity="0.45"/>
<polygon points="296.2,124.5 303.6,128.3 310.8,125.9 303.4,122.2" fill="#e60000" stroke="#000" stroke-width="0.35" stroke-linejoin="round" stroke-opacity="0.45"/>
<polygon points="221.9,232.6 229.1,236.7 231.4,148.7 224.1,144.9" fill="#20ffc0" stroke="#000" stroke-width="0.35" stroke-linejoin="round" stroke-opacity="0.45"/>
<polygon points="229.1,236.7 236.4,234.1 238.8,146.3 231.4,148.7" fill="#10b48c" stroke="#000" stroke-width="0.35" stroke-linejoin="round" stroke-opacity="0.45"/>
<polygon points="224.1,144.9 231.4,148.7 238.8,146.3 231.5,142.5" fill="#20e8b0" stroke="#000" stroke-width="0.35" stroke-linejoin="round" stroke-opacity="0.45"/>
<polygon points="277.5,235.7 284.8,239.7 288.7,132.2 281.3,128.4" fill="#ff0000" stroke="#000" stroke-width="0.35" stroke-linejoin="round" stroke-opacity="0.45"/>
<polygon points="284.8,239.7 291.9,237.1 296,129.8 288.7,132.2" fill="#c80000" stroke="#000" stroke-width="0.35" stroke-linejoin="round" stroke-opacity="0.45"/>
<polygon points="281.3,128.4 288.7,132.2 296,129.8 288.6,126" fill="#e60000" stroke="#000" stroke-width="0.35" stroke-linejoin="round" stroke-opacity="0.45"/>
<polygon points="192.6,231.7 199.7,235.7 201.6,141.9 194.4,138.1" fill="#80ff00" stroke="#000" stroke-width="0.35" stroke-linejoin="round" stroke-opacity="0.45"/>
<polygon points="199.7,235.7 207,233.1 209.1,139.5 201.6,141.9" fill="#54b010" stroke="#000" stroke-width="0.35" stroke-linejoin="round" stroke-opacity="0.45"/>
<polygon points="194.4,138.1 201.6,141.9 209.1,139.5 201.9,135.7" fill="#66dc12" stroke="#000" stroke-width="0.35" stroke-linejoin="round" stroke-opacity="0.45"/>
<polygon points="234.3,239.6 241.5,243.7 244.1,152.2 236.8,148.3" fill="#80ff00" stroke="#000" stroke-width="0.35" stroke-linejoin="round" stroke-opacity="0.45"/>
<polygon points="241.5,243.7 248.8,241.1 251.6,149.7 244.1,152.2" fill="#54b010" stroke="#000" stroke-width="0.35" stroke-linejoin="round" stroke-opacity="0.45"/>
<polygon points="236.8,148.3 244.1,152.2 251.6,149.7 244.2,145.9" fill="#66dc12" stroke="#000" stroke-width="0.35" stroke-linejoin="round" stroke-opacity="0.45"/>
<polygon points="204.9,238.7 212,242.7 214.3,144.4 207,140.5" fill="#ffa200" stroke="#000" stroke-width="0.35" stroke-linejoin="round" stroke-opacity="0.45"/>
<polygon points="212,242.7 219.4,240.1 221.7,142 214.3,144.4" fill="#cc7a08" stroke="#000" stroke-width="0.35" stroke-linejoin="round" stroke-opacity="0.45"/>
<polygon points="207,140.5 214.3,144.4 221.7,142 214.5,138.1" fill="#ea8e14" stroke="#000" stroke-width="0.35" stroke-linejoin="round" stroke-opacity="0.45"/>
<polygon points="246.8,246.7 254.1,250.8 257.5,142.1 250,138.2" fill="#ff0000" stroke="#000" stroke-width="0.35" stroke-linejoin="round" stroke-opacity="0.45"/>
<polygon points="254.1,250.8 261.4,248.2 264.9,139.7 257.5,142.1" fill="#c80000" stroke="#000" stroke-width="0.35" stroke-linejoin="round" stroke-opacity="0.45"/>
<polygon points="250,138.2 257.5,142.1 264.9,139.7 257.5,135.8" fill="#e60000" stroke="#000" stroke-width="0.35" stroke-linejoin="round" stroke-opacity="0.45"/>
<polygon points="217.3,245.7 224.5,249.8 227,150.5 219.6,146.6" fill="#ffa200" stroke="#000" stroke-width="0.35" stroke-linejoin="round" stroke-opacity="0.45"/>
<polygon points="224.5,249.8 231.8,247.2 234.5,148 227,150.5" fill="#cc7a08" stroke="#000" stroke-width="0.35" stroke-linejoin="round" stroke-opacity="0.45"/>
<polygon points="219.6,146.6 227,150.5 234.5,148 227.1,144.1" fill="#ea8e14" stroke="#000" stroke-width="0.35" stroke-linejoin="round" stroke-opacity="0.45"/>
<polygon points="229.8,252.8 237,257 240.1,147.2 232.6,143.2" fill="#ff0000" stroke="#000" stroke-width="0.35" stroke-linejoin="round" stroke-opacity="0.45"/>
<polygon points="237,257 244.4,254.3 247.6,144.7 240.1,147.2" fill="#c80000" stroke="#000" stroke-width="0.35" stroke-linejoin="round" stroke-opacity="0.45"/>
<polygon points="232.6,143.2 240.1,147.2 247.6,144.7 240.1,140.8" fill="#e60000" stroke="#000" stroke-width="0.35" stroke-linejoin="round" stroke-opacity="0.45"/>
<line x1="124.3" y1="199.6" x2="125.1" y2="43.4" stroke="#000" stroke-width="1.3"/>
<line x1="124.3" y1="199.6" x2="231.8" y2="261.3" stroke="#000" stroke-width="1.3"/>
<line x1="231.8" y1="261.3" x2="361.2" y2="214.4" stroke="#000" stroke-width="1.3"/>
<line x1="124.3" y1="199.6" x2="120.9" y2="200.7" stroke="#000" stroke-width="0.9"/>
<line x1="124.3" y1="192" x2="122.5" y2="192.6" stroke="#000" stroke-width="0.9"/>
<line x1="124.3" y1="184.4" x2="121" y2="185.5" stroke="#000" stroke-width="0.9"/>
<line x1="124.4" y1="176.8" x2="122.6" y2="177.4" stroke="#000" stroke-width="0.9"/>
<line x1="124.4" y1="169.1" x2="121.1" y2="170.2" stroke="#000" stroke-width="0.9"/>
<line x1="124.5" y1="161.4" x2="122.6" y2="162" stroke="#000" stroke-width="0.9"/>
<line x1="124.5" y1="153.7" x2="121.2" y2="154.8" stroke="#000" stroke-width="0.9"/>
<line x1="124.5" y1="146" x2="122.7" y2="146.6" stroke="#000" stroke-width="0.9"/>
<line x1="124.6" y1="138.3" x2="121.3" y2="139.4" stroke="#000" stroke-width="0.9"/>
<line x1="124.6" y1="130.5" x2="122.8" y2="131.1" stroke="#000" stroke-width="0.9"/>
<line x1="124.7" y1="122.7" x2="121.3" y2="123.8" stroke="#000" stroke-width="0.9"/>
<line x1="124.7" y1="114.9" x2="122.9" y2="115.5" stroke="#000" stroke-width="0.9"/>
<line x1="124.8" y1="107" x2="121.4" y2="108.1" stroke="#000" stroke-width="0.9"/>
<line x1="124.8" y1="99.1" x2="123" y2="99.7" stroke="#000" stroke-width="0.9"/>
<line x1="124.8" y1="91.2" x2="121.5" y2="92.3" stroke="#000" stroke-width="0.9"/>
<line x1="124.9" y1="83.3" x2="123.1" y2="83.9" stroke="#000" stroke-width="0.9"/>
<line x1="124.9" y1="75.4" x2="121.6" y2="76.5" stroke="#000" stroke-width="0.9"/>
<line x1="125" y1="67.4" x2="123.1" y2="68" stroke="#000" stroke-width="0.9"/>
<line x1="125" y1="59.4" x2="121.7" y2="60.5" stroke="#000" stroke-width="0.9"/>
<line x1="125" y1="51.4" x2="123.2" y2="52" stroke="#000" stroke-width="0.9"/>
<line x1="125.1" y1="43.4" x2="121.8" y2="44.5" stroke="#000" stroke-width="0.9"/>
<line x1="128" y1="201.8" x2="124.7" y2="202.9" stroke="#000" stroke-width="0.9"/>
<line x1="137.5" y1="207.2" x2="135.7" y2="207.9" stroke="#000" stroke-width="0.9"/>
<line x1="147.1" y1="212.7" x2="143.8" y2="213.8" stroke="#000" stroke-width="0.9"/>
<line x1="156.8" y1="218.3" x2="155" y2="218.9" stroke="#000" stroke-width="0.9"/>
<line x1="166.5" y1="223.9" x2="163.2" y2="225" stroke="#000" stroke-width="0.9"/>
<line x1="176.3" y1="229.5" x2="174.5" y2="230.1" stroke="#000" stroke-width="0.9"/>
<line x1="186.2" y1="235.2" x2="182.9" y2="236.3" stroke="#000" stroke-width="0.9"/>
<line x1="196.2" y1="240.9" x2="194.4" y2="241.5" stroke="#000" stroke-width="0.9"/>
<line x1="206.3" y1="246.7" x2="203" y2="247.8" stroke="#000" stroke-width="0.9"/>
<line x1="216.4" y1="252.5" x2="214.6" y2="253.1" stroke="#000" stroke-width="0.9"/>
<line x1="226.7" y1="258.3" x2="223.3" y2="259.4" stroke="#000" stroke-width="0.9"/>
<line x1="242.9" y1="257.3" x2="245.9" y2="259" stroke="#000" stroke-width="0.9"/>
<line x1="252.7" y1="253.7" x2="254.4" y2="254.7" stroke="#000" stroke-width="0.9"/>
<line x1="262.5" y1="250.2" x2="265.5" y2="251.9" stroke="#000" stroke-width="0.9"/>
<line x1="272.2" y1="246.7" x2="273.9" y2="247.6" stroke="#000" stroke-width="0.9"/>
<line x1="281.8" y1="243.2" x2="284.9" y2="244.9" stroke="#000" stroke-width="0.9"/>
<line x1="291.4" y1="239.7" x2="293.1" y2="240.7" stroke="#000" stroke-width="0.9"/>
<line x1="300.9" y1="236.2" x2="304" y2="238" stroke="#000" stroke-width="0.9"/>
<line x1="310.4" y1="232.8" x2="312" y2="233.8" stroke="#000" stroke-width="0.9"/>
<line x1="319.8" y1="229.4" x2="322.8" y2="231.2" stroke="#000" stroke-width="0.9"/>
<line x1="329.1" y1="226" x2="330.8" y2="227" stroke="#000" stroke-width="0.9"/>
<line x1="338.4" y1="222.7" x2="341.4" y2="224.4" stroke="#000" stroke-width="0.9"/>
<line x1="347.6" y1="219.3" x2="349.3" y2="220.3" stroke="#000" stroke-width="0.9"/>
<line x1="356.8" y1="216" x2="359.8" y2="217.7" stroke="#000" stroke-width="0.9"/>
<text transform="matrix(0.995 -0.105 -0.107 1.017 119.5 204.5)" font-size="10" text-anchor="end">0</text>
<text transform="matrix(0.995 -0.105 -0.107 1.017 119.6 189.3)" font-size="10" text-anchor="end">50</text>
<text transform="matrix(0.995 -0.105 -0.107 1.017 119.7 174)" font-size="10" text-anchor="end">100</text>
<text transform="matrix(0.995 -0.105 -0.107 1.017 119.8 158.6)" font-size="10" text-anchor="end">150</text>
<text transform="matrix(0.995 -0.105 -0.107 1.017 119.8 143.1)" font-size="10" text-anchor="end">200</text>
<text transform="matrix(0.995 -0.105 -0.107 1.017 119.9 127.6)" font-size="10" text-anchor="end">250</text>
<text transform="matrix(0.995 -0.105 -0.107 1.017 120 111.9)" font-size="10" text-anchor="end">300</text>
<text transform="matrix(0.995 -0.105 -0.107 1.017 120.1 96.1)" font-size="10" text-anchor="end">350</text>
<text transform="matrix(0.995 -0.105 -0.107 1.017 120.2 80.3)" font-size="10" text-anchor="end">400</text>
<text transform="matrix(0.995 -0.105 -0.107 1.017 120.3 64.3)" font-size="10" text-anchor="end">450</text>
<text transform="matrix(0.995 -0.105 -0.107 1.017 120.3 48.3)" font-size="10" text-anchor="end">500</text>
<text transform="matrix(1.538 -0.441 0.724 0.833 123 206.5)" font-size="6.3" text-anchor="end">0</text>
<text transform="matrix(1.538 -0.441 0.724 0.833 142.1 217.5)" font-size="6.3" text-anchor="end">10,000</text>
<text transform="matrix(1.538 -0.441 0.724 0.833 161.5 228.6)" font-size="6.3" text-anchor="end">20,000</text>
<text transform="matrix(1.538 -0.441 0.724 0.833 181.2 239.9)" font-size="6.3" text-anchor="end">30,000</text>
<text transform="matrix(1.538 -0.441 0.724 0.833 201.2 251.4)" font-size="6.3" text-anchor="end">40,000</text>
<text transform="matrix(1.538 -0.441 0.724 0.833 221.6 263.1)" font-size="6.3" text-anchor="end">50,000</text>
<text transform="matrix(1.104 0.587 -0.791 0.712 246.2 263.5)" font-size="6.3" text-anchor="start">0</text>
<text transform="matrix(1.104 0.587 -0.791 0.712 265.8 256.4)" font-size="6.3" text-anchor="start">5,000</text>
<text transform="matrix(1.104 0.587 -0.791 0.712 285.2 249.4)" font-size="6.3" text-anchor="start">10,000</text>
<text transform="matrix(1.104 0.587 -0.791 0.712 304.3 242.5)" font-size="6.3" text-anchor="start">15,000</text>
<text transform="matrix(1.104 0.587 -0.791 0.712 323.1 235.7)" font-size="6.3" text-anchor="start">20,000</text>
<text transform="matrix(1.104 0.587 -0.791 0.712 341.7 228.9)" font-size="6.3" text-anchor="start">25,000</text>
<text transform="matrix(1.104 0.587 -0.791 0.712 360.1 222.3)" font-size="6.3" text-anchor="start">30,000</text>
<text transform="matrix(0.000 1.000 -1.000 0.000 93.3 130.5)" font-size="13.2" text-anchor="middle">Bearing displacement(mm)</text>
<text transform="matrix(1.010 0.576 -0.778 0.708 139.2 246.8)" font-size="8.6" text-anchor="middle">X direction coordinate(mm)</text>
<text transform="matrix(1.254 -0.429 0.457 0.901 330.8 257.8)" font-size="8.6" text-anchor="middle">Y direction coordinate(mm)</text>
<text x="239.3" y="298.6" font-size="11.5" text-anchor="middle">(<tspan font-weight="bold">a</tspan>)</text>
<polygon points="32.2,458.6 129.5,426.2 133.3,311.7 33.2,339.4" fill="#fff" stroke="none" stroke-width="0"/>
<polygon points="129.5,426.2 211.6,469.6 218.2,351.6 133.3,311.7" fill="#fff" stroke="none" stroke-width="0"/>
<polygon points="32.2,458.6 114.3,505.6 211.6,469.6 129.5,426.2" fill="#fff" stroke="none" stroke-width="0"/>
<line x1="40.6" y1="455.8" x2="41.8" y2="337" stroke="#d4d4d4" stroke-width="0.6"/>
<line x1="40.6" y1="455.8" x2="122.7" y2="502.5" stroke="#e6e6e6" stroke-width="0.5"/>
<line x1="55.4" y1="450.9" x2="57" y2="332.8" stroke="#d4d4d4" stroke-width="0.6"/>
<line x1="55.4" y1="450.9" x2="137.5" y2="497" stroke="#e6e6e6" stroke-width="0.5"/>
<line x1="70" y1="446" x2="72" y2="328.7" stroke="#d4d4d4" stroke-width="0.6"/>
<line x1="70" y1="446" x2="152.1" y2="491.6" stroke="#e6e6e6" stroke-width="0.5"/>
<line x1="84.3" y1="441.2" x2="86.8" y2="324.6" stroke="#d4d4d4" stroke-width="0.6"/>
<line x1="84.3" y1="441.2" x2="166.4" y2="486.3" stroke="#e6e6e6" stroke-width="0.5"/>
<line x1="98.5" y1="436.5" x2="101.4" y2="320.5" stroke="#d4d4d4" stroke-width="0.6"/>
<line x1="98.5" y1="436.5" x2="180.6" y2="481" stroke="#e6e6e6" stroke-width="0.5"/>
<line x1="112.4" y1="431.8" x2="115.8" y2="316.6" stroke="#d4d4d4" stroke-width="0.6"/>
<line x1="112.4" y1="431.8" x2="194.6" y2="475.9" stroke="#e6e6e6" stroke-width="0.5"/>
<line x1="126.2" y1="427.2" x2="129.9" y2="312.6" stroke="#d4d4d4" stroke-width="0.6"/>
<line x1="126.2" y1="427.2" x2="208.3" y2="470.8" stroke="#e6e6e6" stroke-width="0.5"/>
<line x1="132.4" y1="427.7" x2="136.3" y2="313.1" stroke="#d4d4d4" stroke-width="0.6"/>
<line x1="35.1" y1="460.2" x2="132.4" y2="427.7" stroke="#e6e6e6" stroke-width="0.5"/>
<line x1="147" y1="435.4" x2="151.4" y2="320.2" stroke="#d4d4d4" stroke-width="0.6"/>
<line x1="49.7" y1="468.6" x2="147" y2="435.4" stroke="#e6e6e6" stroke-width="0.5"/>
<line x1="161.8" y1="443.2" x2="166.7" y2="327.4" stroke="#d4d4d4" stroke-width="0.6"/>
<line x1="64.5" y1="477.1" x2="161.8" y2="443.2" stroke="#e6e6e6" stroke-width="0.5"/>
<line x1="176.9" y1="451.2" x2="182.3" y2="334.7" stroke="#d4d4d4" stroke-width="0.6"/>
<line x1="79.6" y1="485.7" x2="176.9" y2="451.2" stroke="#e6e6e6" stroke-width="0.5"/>
<line x1="192.2" y1="459.3" x2="198.1" y2="342.1" stroke="#d4d4d4" stroke-width="0.6"/>
<line x1="94.8" y1="494.5" x2="192.2" y2="459.3" stroke="#e6e6e6" stroke-width="0.5"/>
<line x1="207.7" y1="467.5" x2="214.1" y2="349.7" stroke="#d4d4d4" stroke-width="0.6"/>
<line x1="110.4" y1="503.4" x2="207.7" y2="467.5" stroke="#e6e6e6" stroke-width="0.5"/>
<line x1="32.5" y1="429.5" x2="130.4" y2="398.2" stroke="#d4d4d4" stroke-width="0.6"/>
<line x1="130.4" y1="398.2" x2="213.2" y2="440.7" stroke="#d4d4d4" stroke-width="0.6"/>
<line x1="32.7" y1="399.9" x2="131.4" y2="369.8" stroke="#d4d4d4" stroke-width="0.6"/>
<line x1="131.4" y1="369.8" x2="214.8" y2="411.5" stroke="#d4d4d4" stroke-width="0.6"/>
<line x1="32.9" y1="369.9" x2="132.3" y2="341" stroke="#d4d4d4" stroke-width="0.6"/>
<line x1="132.3" y1="341" x2="216.5" y2="381.8" stroke="#d4d4d4" stroke-width="0.6"/>
<line x1="33.2" y1="339.4" x2="133.3" y2="311.7" stroke="#8c8c8c" stroke-width="0.7"/>
<line x1="133.3" y1="311.7" x2="218.2" y2="351.6" stroke="#8c8c8c" stroke-width="0.7"/>
<line x1="218.2" y1="351.6" x2="211.6" y2="469.6" stroke="#8c8c8c" stroke-width="0.7"/>
<line x1="129.5" y1="426.2" x2="133.3" y2="311.7" stroke="#8c8c8c" stroke-width="0.7"/>
<line x1="129.5" y1="426.2" x2="211.6" y2="469.6" stroke="#8c8c8c" stroke-width="0.7"/>
<line x1="32.2" y1="458.6" x2="129.5" y2="426.2" stroke="#8c8c8c" stroke-width="0.7"/>
<polygon points="120.2,430.1 125.3,432.8 126.8,387.6 121.6,384.9" fill="#80ff00" stroke="#000" stroke-width="0.35" stroke-linejoin="round" stroke-opacity="0.45"/>
<polygon points="125.3,432.8 130.5,431.1 132,385.9 126.8,387.6" fill="#54b010" stroke="#000" stroke-width="0.35" stroke-linejoin="round" stroke-opacity="0.45"/>
<polygon points="121.6,384.9 126.8,387.6 132,385.9 126.8,383.3" fill="#66dc12" stroke="#000" stroke-width="0.35" stroke-linejoin="round" stroke-opacity="0.45"/>
<polygon points="129.1,434.8 134.3,437.6 136.1,386.4 130.8,383.8" fill="#ffa200" stroke="#000" stroke-width="0.35" stroke-linejoin="round" stroke-opacity="0.45"/>
<polygon points="134.3,437.6 139.4,435.8 141.3,384.8 136.1,386.4" fill="#cc7a08" stroke="#000" stroke-width="0.35" stroke-linejoin="round" stroke-opacity="0.45"/>
<polygon points="130.8,383.8 136.1,386.4 141.3,384.8 136,382.1" fill="#ea8e14" stroke="#000" stroke-width="0.35" stroke-linejoin="round" stroke-opacity="0.45"/>
<polygon points="108.9,433.9 114,436.6 115.3,394 110.1,391.3" fill="#80ff00" stroke="#000" stroke-width="0.35" stroke-linejoin="round" stroke-opacity="0.45"/>
<polygon points="114,436.6 119.2,434.9 120.5,392.4 115.3,394" fill="#54b010" stroke="#000" stroke-width="0.35" stroke-linejoin="round" stroke-opacity="0.45"/>
<polygon points="110.1,391.3 115.3,394 120.5,392.4 115.3,389.7" fill="#66dc12" stroke="#000" stroke-width="0.35" stroke-linejoin="round" stroke-opacity="0.45"/>
<polygon points="138.1,439.6 143.3,442.4 145.3,391.1 139.9,388.4" fill="#ffa200" stroke="#000" stroke-width="0.35" stroke-linejoin="round" stroke-opacity="0.45"/>
<polygon points="143.3,442.4 148.5,440.6 150.5,389.4 145.3,391.1" fill="#cc7a08" stroke="#000" stroke-width="0.35" stroke-linejoin="round" stroke-opacity="0.45"/>
<polygon points="139.9,388.4 145.3,391.1 150.5,389.4 145.1,386.7" fill="#ea8e14" stroke="#000" stroke-width="0.35" stroke-linejoin="round" stroke-opacity="0.45"/>
<polygon points="117.8,438.6 123,441.4 124.5,395.2 119.2,392.5" fill="#80ff00" stroke="#000" stroke-width="0.35" stroke-linejoin="round" stroke-opacity="0.45"/>
<polygon points="123,441.4 128.2,439.7 129.7,393.6 124.5,395.2" fill="#54b010" stroke="#000" stroke-width="0.35" stroke-linejoin="round" stroke-opacity="0.45"/>
<polygon points="119.2,392.5 124.5,395.2 129.7,393.6 124.5,390.9" fill="#66dc12" stroke="#000" stroke-width="0.35" stroke-linejoin="round" stroke-opacity="0.45"/>
<polygon points="147.2,444.5 152.5,447.3 154.1,405.9 148.8,403.2" fill="#80ff00" stroke="#000" stroke-width="0.35" stroke-linejoin="round" stroke-opacity="0.45"/>
<polygon points="152.5,447.3 157.6,445.5 159.3,404.2 154.1,405.9" fill="#54b010" stroke="#000" stroke-width="0.35" stroke-linejoin="round" stroke-opacity="0.45"/>
<polygon points="148.8,403.2 154.1,405.9 159.3,404.2 154,401.5" fill="#66dc12" stroke="#000" stroke-width="0.35" stroke-linejoin="round" stroke-opacity="0.45"/>
<polygon points="126.8,443.5 132,446.3 133.1,415 127.8,412.2" fill="#20ffc0" stroke="#000" stroke-width="0.35" stroke-linejoin="round" stroke-opacity="0.45"/>
<polygon points="132,446.3 137.2,444.5 138.3,413.2 133.1,415" fill="#10b48c" stroke="#000" stroke-width="0.35" stroke-linejoin="round" stroke-opacity="0.45"/>
<polygon points="127.8,412.2 133.1,415 138.3,413.2 133.1,410.5" fill="#20e8b0" stroke="#000" stroke-width="0.35" stroke-linejoin="round" stroke-opacity="0.45"/>
<polygon points="86.1,441.5 91.2,444.3 92.2,401.3 87,398.6" fill="#80ff00" stroke="#000" stroke-width="0.35" stroke-linejoin="round" stroke-opacity="0.45"/>
<polygon points="91.2,444.3 96.5,442.5 97.6,399.6 92.2,401.3" fill="#54b010" stroke="#000" stroke-width="0.35" stroke-linejoin="round" stroke-opacity="0.45"/>
<polygon points="87,398.6 92.2,401.3 97.6,399.6 92.4,396.9" fill="#66dc12" stroke="#000" stroke-width="0.35" stroke-linejoin="round" stroke-opacity="0.45"/>
<polygon points="156.4,449.4 161.7,452.2 163.2,416.7 157.8,414" fill="#20ffc0" stroke="#000" stroke-width="0.35" stroke-linejoin="round" stroke-opacity="0.45"/>
<polygon points="161.7,452.2 166.8,450.4 168.4,415 163.2,416.7" fill="#10b48c" stroke="#000" stroke-width="0.35" stroke-linejoin="round" stroke-opacity="0.45"/>
<polygon points="157.8,414 163.2,416.7 168.4,415 163,412.3" fill="#20e8b0" stroke="#000" stroke-width="0.35" stroke-linejoin="round" stroke-opacity="0.45"/>
<polygon points="135.9,448.4 141.2,451.2 142.2,423.5 136.9,420.7" fill="#0000ff" stroke="#000" stroke-width="0.35" stroke-linejoin="round" stroke-opacity="0.45"/>
<polygon points="141.2,451.2 146.4,449.4 147.4,421.8 142.2,423.5" fill="#0000b4" stroke="#000" stroke-width="0.35" stroke-linejoin="round" stroke-opacity="0.45"/>
<polygon points="136.9,420.7 142.2,423.5 147.4,421.8 142.1,419" fill="#1818e0" stroke="#000" stroke-width="0.35" stroke-linejoin="round" stroke-opacity="0.45"/>
<polygon points="95,446.4 100.2,449.2 101.3,406.1 96,403.3" fill="#80ff00" stroke="#000" stroke-width="0.35" stroke-linejoin="round" stroke-opacity="0.45"/>
<polygon points="100.2,449.2 105.5,447.4 106.7,404.3 101.3,406.1" fill="#54b010" stroke="#000" stroke-width="0.35" stroke-linejoin="round" stroke-opacity="0.45"/>
<polygon points="96,403.3 101.3,406.1 106.7,404.3 101.4,401.6" fill="#66dc12" stroke="#000" stroke-width="0.35" stroke-linejoin="round" stroke-opacity="0.45"/>
<polygon points="75.1,445.1 80.2,448 81.7,374.3 76.5,371.6" fill="#ff0000" stroke="#000" stroke-width="0.35" stroke-linejoin="round" stroke-opacity="0.45"/>
<polygon points="80.2,448 85.6,446.2 87.2,372.6 81.7,374.3" fill="#c80000" stroke="#000" stroke-width="0.35" stroke-linejoin="round" stroke-opacity="0.45"/>
<polygon points="76.5,371.6 81.7,374.3 87.2,372.6 81.9,369.9" fill="#e60000" stroke="#000" stroke-width="0.35" stroke-linejoin="round" stroke-opacity="0.45"/>
<polygon points="165.6,454.3 171,457.1 172.5,423.9 167,421.1" fill="#0000ff" stroke="#000" stroke-width="0.35" stroke-linejoin="round" stroke-opacity="0.45"/>
<polygon points="171,457.1 176.1,455.3 177.7,422.1 172.5,423.9" fill="#0000b4" stroke="#000" stroke-width="0.35" stroke-linejoin="round" stroke-opacity="0.45"/>
<polygon points="167,421.1 172.5,423.9 177.7,422.1 172.2,419.3" fill="#1818e0" stroke="#000" stroke-width="0.35" stroke-linejoin="round" stroke-opacity="0.45"/>
<polygon points="145,453.3 150.4,456.2 151.3,433.9 145.9,431" fill="#800080" stroke="#000" stroke-width="0.35" stroke-linejoin="round" stroke-opacity="0.45"/>
<polygon points="150.4,456.2 155.6,454.3 156.5,432.1 151.3,433.9" fill="#580058" stroke="#000" stroke-width="0.35" stroke-linejoin="round" stroke-opacity="0.45"/>
<polygon points="145.9,431 151.3,433.9 156.5,432.1 151.1,429.3" fill="#700070" stroke="#000" stroke-width="0.35" stroke-linejoin="round" stroke-opacity="0.45"/>
<polygon points="104,451.3 109.2,454.2 110.6,405 105.3,402.3" fill="#ffa200" stroke="#000" stroke-width="0.35" stroke-linejoin="round" stroke-opacity="0.45"/>
<polygon points="109.2,454.2 114.5,452.3 116,403.3 110.6,405" fill="#cc7a08" stroke="#000" stroke-width="0.35" stroke-linejoin="round" stroke-opacity="0.45"/>
<polygon points="105.3,402.3 110.6,405 116,403.3 110.7,400.5" fill="#ea8e14" stroke="#000" stroke-width="0.35" stroke-linejoin="round" stroke-opacity="0.45"/>
<polygon points="84,450.1 89.2,452.9 91,371.2 85.7,368.5" fill="#820000" stroke="#000" stroke-width="0.35" stroke-linejoin="round" stroke-opacity="0.45"/>
<polygon points="89.2,452.9 94.5,451.1 96.5,369.6 91,371.2" fill="#520000" stroke="#000" stroke-width="0.35" stroke-linejoin="round" stroke-opacity="0.45"/>
<polygon points="85.7,368.5 91,371.2 96.5,369.6 91.2,366.9" fill="#6c0000" stroke="#000" stroke-width="0.35" stroke-linejoin="round" stroke-opacity="0.45"/>
<polygon points="174.9,459.3 180.4,462.2 181.9,430 176.4,427.1" fill="#0000ff" stroke="#000" stroke-width="0.35" stroke-linejoin="round" stroke-opacity="0.45"/>
<polygon points="180.4,462.2 185.5,460.3 187.1,428.2 181.9,430" fill="#0000b4" stroke="#000" stroke-width="0.35" stroke-linejoin="round" stroke-opacity="0.45"/>
<polygon points="176.4,427.1 181.9,430 187.1,428.2 181.6,425.3" fill="#1818e0" stroke="#000" stroke-width="0.35" stroke-linejoin="round" stroke-opacity="0.45"/>
<polygon points="154.3,458.3 159.7,461.2 160.5,442.5 155,439.7" fill="#800080" stroke="#000" stroke-width="0.35" stroke-linejoin="round" stroke-opacity="0.45"/>
<polygon points="159.7,461.2 164.9,459.3 165.7,440.7 160.5,442.5" fill="#580058" stroke="#000" stroke-width="0.35" stroke-linejoin="round" stroke-opacity="0.45"/>
<polygon points="155,439.7 160.5,442.5 165.7,440.7 160.3,437.9" fill="#700070" stroke="#000" stroke-width="0.35" stroke-linejoin="round" stroke-opacity="0.45"/>
<polygon points="113.1,456.3 118.3,459.2 119.7,415.7 114.3,412.9" fill="#80ff00" stroke="#000" stroke-width="0.35" stroke-linejoin="round" stroke-opacity="0.45"/>
<polygon points="118.3,459.2 123.7,457.3 125.1,414 119.7,415.7" fill="#54b010" stroke="#000" stroke-width="0.35" stroke-linejoin="round" stroke-opacity="0.45"/>
<polygon points="114.3,412.9 119.7,415.7 125.1,414 119.7,411.2" fill="#66dc12" stroke="#000" stroke-width="0.35" stroke-linejoin="round" stroke-opacity="0.45"/>
<polygon points="93,455 98.2,457.9 100,384.9 94.7,382.2" fill="#ff0000" stroke="#000" stroke-width="0.35" stroke-linejoin="round" stroke-opacity="0.45"/>
<polygon points="98.2,457.9 103.6,456.1 105.5,383.2 100,384.9" fill="#c80000" stroke="#000" stroke-width="0.35" stroke-linejoin="round" stroke-opacity="0.45"/>
<polygon points="94.7,382.2 100,384.9 105.5,383.2 100.2,380.5" fill="#e60000" stroke="#000" stroke-width="0.35" stroke-linejoin="round" stroke-opacity="0.45"/>
<polygon points="184.4,464.3 189.8,467.2 191.2,439.3 185.7,436.4" fill="#0000ff" stroke="#000" stroke-width="0.35" stroke-linejoin="round" stroke-opacity="0.45"/>
<polygon points="189.8,467.2 195,465.3 196.4,437.4 191.2,439.3" fill="#0000b4" stroke="#000" stroke-width="0.35" stroke-linejoin="round" stroke-opacity="0.45"/>
<polygon points="185.7,436.4 191.2,439.3 196.4,437.4 190.9,434.6" fill="#1818e0" stroke="#000" stroke-width="0.35" stroke-linejoin="round" stroke-opacity="0.45"/>
<polygon points="163.6,463.3 169.1,466.2 169.9,446.7 164.5,443.8" fill="#800080" stroke="#000" stroke-width="0.35" stroke-linejoin="round" stroke-opacity="0.45"/>
<polygon points="169.1,466.2 174.3,464.4 175.2,444.8 169.9,446.7" fill="#580058" stroke="#000" stroke-width="0.35" stroke-linejoin="round" stroke-opacity="0.45"/>
<polygon points="164.5,443.8 169.9,446.7 175.2,444.8 169.7,441.9" fill="#700070" stroke="#000" stroke-width="0.35" stroke-linejoin="round" stroke-opacity="0.45"/>
<polygon points="52,452.9 57.1,455.7 57.8,408.3 52.6,405.5" fill="#80ff00" stroke="#000" stroke-width="0.35" stroke-linejoin="round" stroke-opacity="0.45"/>
<polygon points="57.1,455.7 62.6,453.9 63.4,406.6 57.8,408.3" fill="#54b010" stroke="#000" stroke-width="0.35" stroke-linejoin="round" stroke-opacity="0.45"/>
<polygon points="52.6,405.5 57.8,408.3 63.4,406.6 58.2,403.8" fill="#66dc12" stroke="#000" stroke-width="0.35" stroke-linejoin="round" stroke-opacity="0.45"/>
<polygon points="122.2,461.3 127.6,464.2 128.7,429.4 123.3,426.6" fill="#20ffc0" stroke="#000" stroke-width="0.35" stroke-linejoin="round" stroke-opacity="0.45"/>
<polygon points="127.6,464.2 132.9,462.3 134.1,427.6 128.7,429.4" fill="#10b48c" stroke="#000" stroke-width="0.35" stroke-linejoin="round" stroke-opacity="0.45"/>
<polygon points="123.3,426.6 128.7,429.4 134.1,427.6 128.7,424.8" fill="#20e8b0" stroke="#000" stroke-width="0.35" stroke-linejoin="round" stroke-opacity="0.45"/>
<polygon points="102,460.1 107.3,463 108.7,412.9 103.4,410.1" fill="#ffa200" stroke="#000" stroke-width="0.35" stroke-linejoin="round" stroke-opacity="0.45"/>
<polygon points="107.3,463 112.7,461.1 114.2,411.1 108.7,412.9" fill="#cc7a08" stroke="#000" stroke-width="0.35" stroke-linejoin="round" stroke-opacity="0.45"/>
<polygon points="103.4,410.1 108.7,412.9 114.2,411.1 108.8,408.3" fill="#ea8e14" stroke="#000" stroke-width="0.35" stroke-linejoin="round" stroke-opacity="0.45"/>
<polygon points="193.9,469.3 199.4,472.3 201.4,434.6 195.8,431.7" fill="#20ffc0" stroke="#000" stroke-width="0.35" stroke-linejoin="round" stroke-opacity="0.45"/>
<polygon points="199.4,472.3 204.5,470.4 206.6,432.8 201.4,434.6" fill="#10b48c" stroke="#000" stroke-width="0.35" stroke-linejoin="round" stroke-opacity="0.45"/>
<polygon points="195.8,431.7 201.4,434.6 206.6,432.8 201,429.9" fill="#20e8b0" stroke="#000" stroke-width="0.35" stroke-linejoin="round" stroke-opacity="0.45"/>
<polygon points="173.1,468.4 178.5,471.3 179.3,454 173.8,451.1" fill="#800080" stroke="#000" stroke-width="0.35" stroke-linejoin="round" stroke-opacity="0.45"/>
<polygon points="178.5,471.3 183.7,469.4 184.6,452.1 179.3,454" fill="#580058" stroke="#000" stroke-width="0.35" stroke-linejoin="round" stroke-opacity="0.45"/>
<polygon points="173.8,451.1 179.3,454 184.6,452.1 179.1,449.2" fill="#700070" stroke="#000" stroke-width="0.35" stroke-linejoin="round" stroke-opacity="0.45"/>
<polygon points="60.9,457.9 66.1,460.8 66.7,422.9 61.5,420.1" fill="#20ffc0" stroke="#000" stroke-width="0.35" stroke-linejoin="round" stroke-opacity="0.45"/>
<polygon points="66.1,460.8 71.6,458.9 72.3,421.2 66.7,422.9" fill="#10b48c" stroke="#000" stroke-width="0.35" stroke-linejoin="round" stroke-opacity="0.45"/>
<polygon points="61.5,420.1 66.7,422.9 72.3,421.2 67,418.3" fill="#20e8b0" stroke="#000" stroke-width="0.35" stroke-linejoin="round" stroke-opacity="0.45"/>
<polygon points="39.1,457.2 44.2,460.1 44.8,405.3 39.6,402.5" fill="#ffa200" stroke="#000" stroke-width="0.35" stroke-linejoin="round" stroke-opacity="0.45"/>
<polygon points="44.2,460.1 49.8,458.2 50.5,403.6 44.8,405.3" fill="#cc7a08" stroke="#000" stroke-width="0.35" stroke-linejoin="round" stroke-opacity="0.45"/>
<polygon points="39.6,402.5 44.8,405.3 50.5,403.6 45.2,400.8" fill="#ea8e14" stroke="#000" stroke-width="0.35" stroke-linejoin="round" stroke-opacity="0.45"/>
<polygon points="131.5,466.4 136.9,469.3 138.3,430.3 132.8,427.4" fill="#20ffc0" stroke="#000" stroke-width="0.35" stroke-linejoin="round" stroke-opacity="0.45"/>
<polygon points="136.9,469.3 142.2,467.4 143.6,428.5 138.3,430.3" fill="#10b48c" stroke="#000" stroke-width="0.35" stroke-linejoin="round" stroke-opacity="0.45"/>
<polygon points="132.8,427.4 138.3,430.3 143.6,428.5 138.2,425.6" fill="#20e8b0" stroke="#000" stroke-width="0.35" stroke-linejoin="round" stroke-opacity="0.45"/>
<polygon points="111.2,465.1 116.5,468.1 118.2,414.5 112.7,411.7" fill="#ffa200" stroke="#000" stroke-width="0.35" stroke-linejoin="round" stroke-opacity="0.45"/>
<polygon points="116.5,468.1 121.9,466.2 123.6,412.8 118.2,414.5" fill="#cc7a08" stroke="#000" stroke-width="0.35" stroke-linejoin="round" stroke-opacity="0.45"/>
<polygon points="112.7,411.7 118.2,414.5 123.6,412.8 118.2,409.9" fill="#ea8e14" stroke="#000" stroke-width="0.35" stroke-linejoin="round" stroke-opacity="0.45"/>
<polygon points="182.6,473.5 188.1,476.5 189.6,446.5 184,443.6" fill="#0000ff" stroke="#000" stroke-width="0.35" stroke-linejoin="round" stroke-opacity="0.45"/>
<polygon points="188.1,476.5 193.3,474.6 194.8,444.7 189.6,446.5" fill="#0000b4" stroke="#000" stroke-width="0.35" stroke-linejoin="round" stroke-opacity="0.45"/>
<polygon points="184,443.6 189.6,446.5 194.8,444.7 189.2,441.8" fill="#1818e0" stroke="#000" stroke-width="0.35" stroke-linejoin="round" stroke-opacity="0.45"/>
<polygon points="69.9,462.9 75.1,465.9 75.7,435.9 70.4,433" fill="#0000ff" stroke="#000" stroke-width="0.35" stroke-linejoin="round" stroke-opacity="0.45"/>
<polygon points="75.1,465.9 80.6,464 81.2,434 75.7,435.9" fill="#0000b4" stroke="#000" stroke-width="0.35" stroke-linejoin="round" stroke-opacity="0.45"/>
<polygon points="70.4,433 75.7,435.9 81.2,434 75.9,431.2" fill="#1818e0" stroke="#000" stroke-width="0.35" stroke-linejoin="round" stroke-opacity="0.45"/>
<polygon points="48,462.2 53.2,465.2 54.1,394.3 48.8,391.5" fill="#ff0000" stroke="#000" stroke-width="0.35" stroke-linejoin="round" stroke-opacity="0.45"/>
<polygon points="53.2,465.2 58.7,463.3 59.8,392.6 54.1,394.3" fill="#c80000" stroke="#000" stroke-width="0.35" stroke-linejoin="round" stroke-opacity="0.45"/>
<polygon points="48.8,391.5 54.1,394.3 59.8,392.6 54.5,389.8" fill="#e60000" stroke="#000" stroke-width="0.35" stroke-linejoin="round" stroke-opacity="0.45"/>
<polygon points="140.8,471.5 146.2,474.5 147.7,437.4 142.2,434.5" fill="#20ffc0" stroke="#000" stroke-width="0.35" stroke-linejoin="round" stroke-opacity="0.45"/>
<polygon points="146.2,474.5 151.6,472.5 153,435.5 147.7,437.4" fill="#10b48c" stroke="#000" stroke-width="0.35" stroke-linejoin="round" stroke-opacity="0.45"/>
<polygon points="142.2,434.5 147.7,437.4 153,435.5 147.5,432.6" fill="#20e8b0" stroke="#000" stroke-width="0.35" stroke-linejoin="round" stroke-opacity="0.45"/>
<polygon points="120.5,470.3 125.8,473.2 127.3,429.3 121.8,426.4" fill="#80ff00" stroke="#000" stroke-width="0.35" stroke-linejoin="round" stroke-opacity="0.45"/>
<polygon points="125.8,473.2 131.2,471.3 132.7,427.5 127.3,429.3" fill="#54b010" stroke="#000" stroke-width="0.35" stroke-linejoin="round" stroke-opacity="0.45"/>
<polygon points="121.8,426.4 127.3,429.3 132.7,427.5 127.3,424.6" fill="#66dc12" stroke="#000" stroke-width="0.35" stroke-linejoin="round" stroke-opacity="0.45"/>
<polygon points="78.9,468.1 84.2,471 84.8,446.2 79.4,443.3" fill="#0000ff" stroke="#000" stroke-width="0.35" stroke-linejoin="round" stroke-opacity="0.45"/>
<polygon points="84.2,471 89.7,469.1 90.3,444.4 84.8,446.2" fill="#0000b4" stroke="#000" stroke-width="0.35" stroke-linejoin="round" stroke-opacity="0.45"/>
<polygon points="79.4,443.3 84.8,446.2 90.3,444.4 85,441.4" fill="#1818e0" stroke="#000" stroke-width="0.35" stroke-linejoin="round" stroke-opacity="0.45"/>
<polygon points="57,467.4 62.2,470.3 63,418.8 57.7,415.9" fill="#80ff00" stroke="#000" stroke-width="0.35" stroke-linejoin="round" stroke-opacity="0.45"/>
<polygon points="62.2,470.3 67.8,468.4 68.6,417 63,418.8" fill="#54b010" stroke="#000" stroke-width="0.35" stroke-linejoin="round" stroke-opacity="0.45"/>
<polygon points="57.7,415.9 63,418.8 68.6,417 63.3,414.1" fill="#66dc12" stroke="#000" stroke-width="0.35" stroke-linejoin="round" stroke-opacity="0.45"/>
<polygon points="150.2,476.6 155.7,479.7 157,448.9 151.4,446" fill="#0000ff" stroke="#000" stroke-width="0.35" stroke-linejoin="round" stroke-opacity="0.45"/>
<polygon points="155.7,479.7 161,477.7 162.3,447.1 157,448.9" fill="#0000b4" stroke="#000" stroke-width="0.35" stroke-linejoin="round" stroke-opacity="0.45"/>
<polygon points="151.4,446 157,448.9 162.3,447.1 156.8,444.1" fill="#1818e0" stroke="#000" stroke-width="0.35" stroke-linejoin="round" stroke-opacity="0.45"/>
<polygon points="129.8,475.4 135.2,478.4 136.3,447.1 130.8,444.2" fill="#0000ff" stroke="#000" stroke-width="0.35" stroke-linejoin="round" stroke-opacity="0.45"/>
<polygon points="135.2,478.4 140.6,476.5 141.8,445.2 136.3,447.1" fill="#0000b4" stroke="#000" stroke-width="0.35" stroke-linejoin="round" stroke-opacity="0.45"/>
<polygon points="130.8,444.2 136.3,447.1 141.8,445.2 136.3,442.3" fill="#1818e0" stroke="#000" stroke-width="0.35" stroke-linejoin="round" stroke-opacity="0.45"/>
<polygon points="88.1,473.2 93.4,476.2 94.1,447.5 88.8,444.5" fill="#0000ff" stroke="#000" stroke-width="0.35" stroke-linejoin="round" stroke-opacity="0.45"/>
<polygon points="93.4,476.2 98.9,474.3 99.7,445.6 94.1,447.5" fill="#0000b4" stroke="#000" stroke-width="0.35" stroke-linejoin="round" stroke-opacity="0.45"/>
<polygon points="88.8,444.5 94.1,447.5 99.7,445.6 94.3,442.7" fill="#1818e0" stroke="#000" stroke-width="0.35" stroke-linejoin="round" stroke-opacity="0.45"/>
<polygon points="66,472.5 71.3,475.5 72.3,421.4 66.9,418.5" fill="#ffa200" stroke="#000" stroke-width="0.35" stroke-linejoin="round" stroke-opacity="0.45"/>
<polygon points="71.3,475.5 76.9,473.6 77.9,419.6 72.3,421.4" fill="#cc7a08" stroke="#000" stroke-width="0.35" stroke-linejoin="round" stroke-opacity="0.45"/>
<polygon points="66.9,418.5 72.3,421.4 77.9,419.6 72.6,416.7" fill="#ea8e14" stroke="#000" stroke-width="0.35" stroke-linejoin="round" stroke-opacity="0.45"/>
<polygon points="159.8,481.9 165.3,484.9 167.3,438.9 161.7,436" fill="#80ff00" stroke="#000" stroke-width="0.35" stroke-linejoin="round" stroke-opacity="0.45"/>
<polygon points="165.3,484.9 170.6,482.9 172.7,437.1 167.3,438.9" fill="#54b010" stroke="#000" stroke-width="0.35" stroke-linejoin="round" stroke-opacity="0.45"/>
<polygon points="161.7,436 167.3,438.9 172.7,437.1 167.1,434.1" fill="#66dc12" stroke="#000" stroke-width="0.35" stroke-linejoin="round" stroke-opacity="0.45"/>
<polygon points="139.2,480.6 144.7,483.7 146.1,447.2 140.5,444.2" fill="#20ffc0" stroke="#000" stroke-width="0.35" stroke-linejoin="round" stroke-opacity="0.45"/>
<polygon points="144.7,483.7 150.1,481.7 151.5,445.3 146.1,447.2" fill="#10b48c" stroke="#000" stroke-width="0.35" stroke-linejoin="round" stroke-opacity="0.45"/>
<polygon points="140.5,444.2 146.1,447.2 151.5,445.3 146,442.4" fill="#20e8b0" stroke="#000" stroke-width="0.35" stroke-linejoin="round" stroke-opacity="0.45"/>
<polygon points="97.3,478.4 102.7,481.5 103.3,460.9 97.9,457.9" fill="#800080" stroke="#000" stroke-width="0.35" stroke-linejoin="round" stroke-opacity="0.45"/>
<polygon points="102.7,481.5 108.2,479.5 108.8,459 103.3,460.9" fill="#580058" stroke="#000" stroke-width="0.35" stroke-linejoin="round" stroke-opacity="0.45"/>
<polygon points="97.9,457.9 103.3,460.9 108.8,459 103.4,456" fill="#700070" stroke="#000" stroke-width="0.35" stroke-linejoin="round" stroke-opacity="0.45"/>
<polygon points="75.2,477.7 80.5,480.8 81.3,442.3 75.9,439.4" fill="#20ffc0" stroke="#000" stroke-width="0.35" stroke-linejoin="round" stroke-opacity="0.45"/>
<polygon points="80.5,480.8 86.1,478.8 86.9,440.5 81.3,442.3" fill="#10b48c" stroke="#000" stroke-width="0.35" stroke-linejoin="round" stroke-opacity="0.45"/>
<polygon points="75.9,439.4 81.3,442.3 86.9,440.5 81.5,437.5" fill="#20e8b0" stroke="#000" stroke-width="0.35" stroke-linejoin="round" stroke-opacity="0.45"/>
<polygon points="148.7,485.9 154.3,489 155.5,459.5 149.9,456.5" fill="#0000ff" stroke="#000" stroke-width="0.35" stroke-linejoin="round" stroke-opacity="0.45"/>
<polygon points="154.3,489 159.6,487 160.9,457.6 155.5,459.5" fill="#0000b4" stroke="#000" stroke-width="0.35" stroke-linejoin="round" stroke-opacity="0.45"/>
<polygon points="149.9,456.5 155.5,459.5 160.9,457.6 155.3,454.6" fill="#1818e0" stroke="#000" stroke-width="0.35" stroke-linejoin="round" stroke-opacity="0.45"/>
<polygon points="106.7,483.7 112.1,486.8 112.5,472.1 107.1,469" fill="#800080" stroke="#000" stroke-width="0.35" stroke-linejoin="round" stroke-opacity="0.45"/>
<polygon points="112.1,486.8 117.6,484.8 118.1,470.1 112.5,472.1" fill="#580058" stroke="#000" stroke-width="0.35" stroke-linejoin="round" stroke-opacity="0.45"/>
<polygon points="107.1,469 112.5,472.1 118.1,470.1 112.6,467.1" fill="#700070" stroke="#000" stroke-width="0.35" stroke-linejoin="round" stroke-opacity="0.45"/>
<polygon points="84.4,483 89.8,486.1 90.7,447.2 85.3,444.2" fill="#20ffc0" stroke="#000" stroke-width="0.35" stroke-linejoin="round" stroke-opacity="0.45"/>
<polygon points="89.8,486.1 95.4,484.1 96.3,445.3 90.7,447.2" fill="#10b48c" stroke="#000" stroke-width="0.35" stroke-linejoin="round" stroke-opacity="0.45"/>
<polygon points="85.3,444.2 90.7,447.2 96.3,445.3 90.9,442.3" fill="#20e8b0" stroke="#000" stroke-width="0.35" stroke-linejoin="round" stroke-opacity="0.45"/>
<polygon points="116.1,489 121.6,492.1 122.3,470.8 116.7,467.8" fill="#800080" stroke="#000" stroke-width="0.35" stroke-linejoin="round" stroke-opacity="0.45"/>
<polygon points="121.6,492.1 127.1,490.1 127.8,468.9 122.3,470.8" fill="#580058" stroke="#000" stroke-width="0.35" stroke-linejoin="round" stroke-opacity="0.45"/>
<polygon points="116.7,467.8 122.3,470.8 127.8,468.9 122.3,465.8" fill="#700070" stroke="#000" stroke-width="0.35" stroke-linejoin="round" stroke-opacity="0.45"/>
<polygon points="93.8,488.3 99.2,491.4 100,458.7 94.5,455.7" fill="#0000ff" stroke="#000" stroke-width="0.35" stroke-linejoin="round" stroke-opacity="0.45"/>
<polygon points="99.2,491.4 104.8,489.4 105.6,456.8 100,458.7" fill="#0000b4" stroke="#000" stroke-width="0.35" stroke-linejoin="round" stroke-opacity="0.45"/>
<polygon points="94.5,455.7 100,458.7 105.6,456.8 100.2,453.8" fill="#1818e0" stroke="#000" stroke-width="0.35" stroke-linejoin="round" stroke-opacity="0.45"/>
<polygon points="125.6,494.4 131.2,497.5 132.6,456.9 126.9,453.9" fill="#20ffc0" stroke="#000" stroke-width="0.35" stroke-linejoin="round" stroke-opacity="0.45"/>
<polygon points="131.2,497.5 136.7,495.5 138.1,455 132.6,456.9" fill="#10b48c" stroke="#000" stroke-width="0.35" stroke-linejoin="round" stroke-opacity="0.45"/>
<polygon points="126.9,453.9 132.6,456.9 138.1,455 132.5,452" fill="#20e8b0" stroke="#000" stroke-width="0.35" stroke-linejoin="round" stroke-opacity="0.45"/>
<polygon points="103.2,493.7 108.7,496.8 109.5,468.5 103.9,465.5" fill="#0000ff" stroke="#000" stroke-width="0.35" stroke-linejoin="round" stroke-opacity="0.45"/>
<polygon points="108.7,496.8 114.2,494.8 115.1,466.6 109.5,468.5" fill="#0000b4" stroke="#000" stroke-width="0.35" stroke-linejoin="round" stroke-opacity="0.45"/>
<polygon points="103.9,465.5 109.5,468.5 115.1,466.6 109.5,463.5" fill="#1818e0" stroke="#000" stroke-width="0.35" stroke-linejoin="round" stroke-opacity="0.45"/>
<polygon points="112.7,499.1 118.2,502.3 119.3,468.5 113.7,465.4" fill="#0000ff" stroke="#000" stroke-width="0.35" stroke-linejoin="round" stroke-opacity="0.45"/>
<polygon points="118.2,502.3 123.8,500.2 124.9,466.5 119.3,468.5" fill="#0000b4" stroke="#000" stroke-width="0.35" stroke-linejoin="round" stroke-opacity="0.45"/>
<polygon points="113.7,465.4 119.3,468.5 124.9,466.5 119.3,463.4" fill="#1818e0" stroke="#000" stroke-width="0.35" stroke-linejoin="round" stroke-opacity="0.45"/>
<line x1="32.2" y1="458.6" x2="33.2" y2="339.4" stroke="#000" stroke-width="1.1"/>
<line x1="32.2" y1="458.6" x2="114.3" y2="505.6" stroke="#000" stroke-width="1.1"/>
<line x1="114.3" y1="505.6" x2="211.6" y2="469.6" stroke="#000" stroke-width="1.1"/>
<line x1="32.2" y1="458.6" x2="29.4" y2="459.5" stroke="#000" stroke-width="0.8"/>
<line x1="32.4" y1="444.1" x2="30.8" y2="444.6" stroke="#000" stroke-width="0.8"/>
<line x1="32.5" y1="429.5" x2="29.6" y2="430.4" stroke="#000" stroke-width="0.8"/>
<line x1="32.6" y1="414.8" x2="31" y2="415.3" stroke="#000" stroke-width="0.8"/>
<line x1="32.7" y1="399.9" x2="29.8" y2="400.9" stroke="#000" stroke-width="0.8"/>
<line x1="32.8" y1="385" x2="31.2" y2="385.5" stroke="#000" stroke-width="0.8"/>
<line x1="32.9" y1="369.9" x2="30.1" y2="370.9" stroke="#000" stroke-width="0.8"/>
<line x1="33" y1="354.7" x2="31.5" y2="355.3" stroke="#000" stroke-width="0.8"/>
<line x1="33.2" y1="339.4" x2="30.3" y2="340.4" stroke="#000" stroke-width="0.8"/>
<line x1="35.1" y1="460.2" x2="32.3" y2="461.2" stroke="#000" stroke-width="0.8"/>
<line x1="42.4" y1="464.4" x2="40.8" y2="464.9" stroke="#000" stroke-width="0.8"/>
<line x1="49.7" y1="468.6" x2="46.9" y2="469.5" stroke="#000" stroke-width="0.8"/>
<line x1="57.1" y1="472.8" x2="55.5" y2="473.3" stroke="#000" stroke-width="0.8"/>
<line x1="64.5" y1="477.1" x2="61.7" y2="478" stroke="#000" stroke-width="0.8"/>
<line x1="72" y1="481.4" x2="70.4" y2="481.9" stroke="#000" stroke-width="0.8"/>
<line x1="79.6" y1="485.7" x2="76.7" y2="486.7" stroke="#000" stroke-width="0.8"/>
<line x1="87.2" y1="490.1" x2="85.6" y2="490.6" stroke="#000" stroke-width="0.8"/>
<line x1="94.8" y1="494.5" x2="92" y2="495.4" stroke="#000" stroke-width="0.8"/>
<line x1="102.6" y1="498.9" x2="101" y2="499.4" stroke="#000" stroke-width="0.8"/>
<line x1="110.4" y1="503.4" x2="107.5" y2="504.3" stroke="#000" stroke-width="0.8"/>
<line x1="122.7" y1="502.5" x2="125.3" y2="504" stroke="#000" stroke-width="0.8"/>
<line x1="130.1" y1="499.7" x2="131.5" y2="500.6" stroke="#000" stroke-width="0.8"/>
<line x1="137.5" y1="497" x2="140.1" y2="498.5" stroke="#000" stroke-width="0.8"/>
<line x1="144.8" y1="494.3" x2="146.2" y2="495.1" stroke="#000" stroke-width="0.8"/>
<line x1="152.1" y1="491.6" x2="154.7" y2="493.1" stroke="#000" stroke-width="0.8"/>
<line x1="159.3" y1="488.9" x2="160.7" y2="489.8" stroke="#000" stroke-width="0.8"/>
<line x1="166.4" y1="486.3" x2="169" y2="487.8" stroke="#000" stroke-width="0.8"/>
<line x1="173.5" y1="483.7" x2="175" y2="484.5" stroke="#000" stroke-width="0.8"/>
<line x1="180.6" y1="481" x2="183.2" y2="482.5" stroke="#000" stroke-width="0.8"/>
<line x1="187.6" y1="478.4" x2="189" y2="479.3" stroke="#000" stroke-width="0.8"/>
<line x1="194.6" y1="475.9" x2="197.2" y2="477.4" stroke="#000" stroke-width="0.8"/>
<line x1="201.5" y1="473.3" x2="202.9" y2="474.1" stroke="#000" stroke-width="0.8"/>
<line x1="208.3" y1="470.8" x2="210.9" y2="472.3" stroke="#000" stroke-width="0.8"/>
<text transform="matrix(0.995 -0.105 -0.107 1.017 28 462.7)" font-size="8.3" text-anchor="end">0</text>
<text transform="matrix(0.995 -0.105 -0.107 1.017 28.2 433.7)" font-size="8.3" text-anchor="end">1</text>
<text transform="matrix(0.995 -0.105 -0.107 1.017 28.4 404.1)" font-size="8.3" text-anchor="end">2</text>
<text transform="matrix(0.995 -0.105 -0.107 1.017 28.7 374.1)" font-size="8.3" text-anchor="end">3</text>
<text transform="matrix(0.995 -0.105 -0.107 1.017 28.9 343.6)" font-size="8.3" text-anchor="end">4</text>
<text transform="matrix(1.394 -0.400 0.724 0.833 30.6 464.2)" font-size="5" text-anchor="end">0</text>
<text transform="matrix(1.394 -0.400 0.724 0.833 45.1 472.5)" font-size="5" text-anchor="end">10,000</text>
<text transform="matrix(1.394 -0.400 0.724 0.833 59.9 481)" font-size="5" text-anchor="end">20,000</text>
<text transform="matrix(1.394 -0.400 0.724 0.833 75 489.6)" font-size="5" text-anchor="end">30,000</text>
<text transform="matrix(1.394 -0.400 0.724 0.833 90.3 498.4)" font-size="5" text-anchor="end">40,000</text>
<text transform="matrix(1.394 -0.400 0.724 0.833 105.8 507.3)" font-size="5" text-anchor="end">50,000</text>
<text transform="matrix(1.104 0.587 -0.791 0.712 125.6 507.7)" font-size="5" text-anchor="start">0</text>
<text transform="matrix(1.104 0.587 -0.791 0.712 140.4 502.3)" font-size="5" text-anchor="start">5,000</text>
<text transform="matrix(1.104 0.587 -0.791 0.712 155 496.9)" font-size="5" text-anchor="start">10,000</text>
<text transform="matrix(1.104 0.587 -0.791 0.712 169.3 491.5)" font-size="5" text-anchor="start">15,000</text>
<text transform="matrix(1.104 0.587 -0.791 0.712 183.5 486.3)" font-size="5" text-anchor="start">20,000</text>
<text transform="matrix(1.104 0.587 -0.791 0.712 197.5 481.1)" font-size="5" text-anchor="start">25,000</text>
<text transform="matrix(1.104 0.587 -0.791 0.712 211.2 476)" font-size="5" text-anchor="start">30,000</text>
<text transform="matrix(0.000 1.000 -1.000 0.000 16.3 404.3)" font-size="10" text-anchor="middle">Compressive stress(MPa)</text>
<text transform="matrix(0.988 0.582 -0.787 0.697 42.2 493.3)" font-size="6.8" text-anchor="middle">X direction coordinate(mm)</text>
<text transform="matrix(1.255 -0.430 0.457 0.901 189.7 502.4)" font-size="6.8" text-anchor="middle">Y direction coordinate(mm)</text>
<text x="119.2" y="534" font-size="12" text-anchor="middle">(<tspan font-weight="bold">b</tspan>)</text>
</svg>
</body></html>
